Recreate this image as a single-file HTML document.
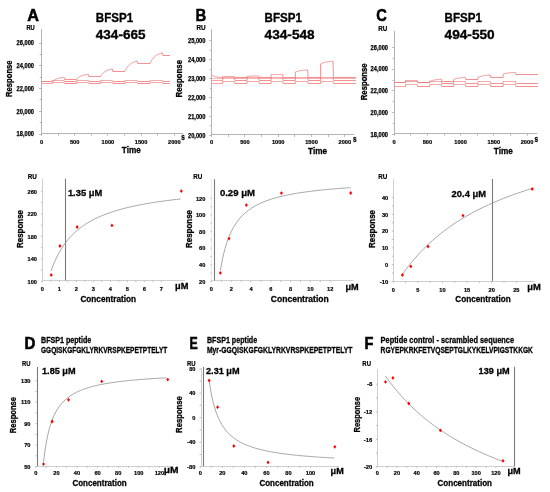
<!DOCTYPE html>
<html><head><meta charset="utf-8"><style>
html,body{margin:0;padding:0;background:#fff;width:550px;height:492px;overflow:hidden}
svg{display:block;will-change:transform}
text{font-family:"Liberation Sans", sans-serif}
</style></head><body>
<svg width="550" height="492" viewBox="0 0 550 492">
<rect width="550" height="492" fill="#fff"/>
<text x="27.35" y="20.60" font-size="16.86" font-weight="bold" fill="#000" stroke="#000" stroke-width="0.5" textLength="11.73" lengthAdjust="spacingAndGlyphs">A</text>
<text x="195.55" y="20.60" font-size="16.86" font-weight="bold" fill="#000" stroke="#000" stroke-width="0.5" textLength="10.78" lengthAdjust="spacingAndGlyphs">B</text>
<text x="376.25" y="20.60" font-size="16.86" font-weight="bold" fill="#000" stroke="#000" stroke-width="0.5" textLength="10.60" lengthAdjust="spacingAndGlyphs">C</text>
<text x="24.60" y="349.00" font-size="15.99" font-weight="bold" fill="#000" stroke="#000" stroke-width="0.6" textLength="10.83" lengthAdjust="spacingAndGlyphs">D</text>
<text x="189.48" y="349.00" font-size="15.99" font-weight="bold" fill="#000" stroke="#000" stroke-width="0.6" textLength="8.20" lengthAdjust="spacingAndGlyphs">E</text>
<text x="364.52" y="349.00" font-size="15.99" font-weight="bold" fill="#000" stroke="#000" stroke-width="0.6" textLength="8.91" lengthAdjust="spacingAndGlyphs">F</text>
<text x="95.80" y="22.00" font-size="13.66" font-weight="bold" text-anchor="start" fill="#000" stroke="#000" stroke-width="0.35" textLength="37.30" lengthAdjust="spacingAndGlyphs">BFSP1</text>
<text x="95.80" y="39.20" font-size="13.66" font-weight="bold" text-anchor="start" fill="#000" stroke="#000" stroke-width="0.35" textLength="49.70" lengthAdjust="spacingAndGlyphs">434-665</text>
<text x="264.60" y="22.00" font-size="13.66" font-weight="bold" text-anchor="start" fill="#000" stroke="#000" stroke-width="0.35" textLength="37.30" lengthAdjust="spacingAndGlyphs">BFSP1</text>
<text x="264.60" y="39.20" font-size="13.66" font-weight="bold" text-anchor="start" fill="#000" stroke="#000" stroke-width="0.35" textLength="50.10" lengthAdjust="spacingAndGlyphs">434-548</text>
<text x="444.60" y="22.00" font-size="13.66" font-weight="bold" text-anchor="start" fill="#000" stroke="#000" stroke-width="0.35" textLength="37.30" lengthAdjust="spacingAndGlyphs">BFSP1</text>
<text x="444.60" y="39.20" font-size="13.66" font-weight="bold" text-anchor="start" fill="#000" stroke="#000" stroke-width="0.35" textLength="50.10" lengthAdjust="spacingAndGlyphs">494-550</text>
<line x1="41.50" y1="29.00" x2="41.50" y2="133.80" stroke="#b4b4b4" stroke-width="1"/>
<line x1="41.20" y1="133.50" x2="183.30" y2="133.50" stroke="#b4b4b4" stroke-width="1"/>
<line x1="39.20" y1="134.50" x2="41.20" y2="134.50" stroke="#b4b4b4" stroke-width="1"/>
<line x1="39.20" y1="111.50" x2="41.20" y2="111.50" stroke="#b4b4b4" stroke-width="1"/>
<line x1="39.20" y1="88.50" x2="41.20" y2="88.50" stroke="#b4b4b4" stroke-width="1"/>
<line x1="39.20" y1="65.50" x2="41.20" y2="65.50" stroke="#b4b4b4" stroke-width="1"/>
<line x1="39.20" y1="43.50" x2="41.20" y2="43.50" stroke="#b4b4b4" stroke-width="1"/>
<line x1="39.70" y1="122.50" x2="41.20" y2="122.50" stroke="#b4b4b4" stroke-width="1"/>
<line x1="39.70" y1="99.50" x2="41.20" y2="99.50" stroke="#b4b4b4" stroke-width="1"/>
<line x1="39.70" y1="77.50" x2="41.20" y2="77.50" stroke="#b4b4b4" stroke-width="1"/>
<line x1="39.70" y1="54.50" x2="41.20" y2="54.50" stroke="#b4b4b4" stroke-width="1"/>
<line x1="41.50" y1="133.80" x2="41.50" y2="135.80" stroke="#b4b4b4" stroke-width="1"/>
<line x1="58.50" y1="133.80" x2="58.50" y2="135.80" stroke="#b4b4b4" stroke-width="1"/>
<line x1="74.50" y1="133.80" x2="74.50" y2="135.80" stroke="#b4b4b4" stroke-width="1"/>
<line x1="91.50" y1="133.80" x2="91.50" y2="135.80" stroke="#b4b4b4" stroke-width="1"/>
<line x1="107.50" y1="133.80" x2="107.50" y2="135.80" stroke="#b4b4b4" stroke-width="1"/>
<line x1="124.50" y1="133.80" x2="124.50" y2="135.80" stroke="#b4b4b4" stroke-width="1"/>
<line x1="141.50" y1="133.80" x2="141.50" y2="135.80" stroke="#b4b4b4" stroke-width="1"/>
<line x1="157.50" y1="133.80" x2="157.50" y2="135.80" stroke="#b4b4b4" stroke-width="1"/>
<line x1="174.50" y1="133.80" x2="174.50" y2="135.80" stroke="#b4b4b4" stroke-width="1"/>
<text x="34.00" y="136.20" font-size="6.40" font-weight="bold" text-anchor="end" fill="#000" stroke="#000" stroke-width="0.25" textLength="17.40" lengthAdjust="spacingAndGlyphs">18,000</text>
<text x="34.00" y="113.50" font-size="6.40" font-weight="bold" text-anchor="end" fill="#000" stroke="#000" stroke-width="0.25" textLength="17.40" lengthAdjust="spacingAndGlyphs">20,000</text>
<text x="34.00" y="90.80" font-size="6.40" font-weight="bold" text-anchor="end" fill="#000" stroke="#000" stroke-width="0.25" textLength="17.40" lengthAdjust="spacingAndGlyphs">22,000</text>
<text x="34.00" y="68.10" font-size="6.40" font-weight="bold" text-anchor="end" fill="#000" stroke="#000" stroke-width="0.25" textLength="17.40" lengthAdjust="spacingAndGlyphs">24,000</text>
<text x="34.00" y="45.40" font-size="6.40" font-weight="bold" text-anchor="end" fill="#000" stroke="#000" stroke-width="0.25" textLength="17.40" lengthAdjust="spacingAndGlyphs">26,000</text>
<text x="41.50" y="143.90" font-size="5.81" font-weight="bold" text-anchor="middle" fill="#000" stroke="#000" stroke-width="0.2" textLength="3.20" lengthAdjust="spacingAndGlyphs">0</text>
<text x="74.70" y="143.90" font-size="5.81" font-weight="bold" text-anchor="middle" fill="#000" stroke="#000" stroke-width="0.2" textLength="9.50" lengthAdjust="spacingAndGlyphs">500</text>
<text x="107.90" y="143.90" font-size="5.81" font-weight="bold" text-anchor="middle" fill="#000" stroke="#000" stroke-width="0.2" textLength="12.60" lengthAdjust="spacingAndGlyphs">1000</text>
<text x="141.10" y="143.90" font-size="5.81" font-weight="bold" text-anchor="middle" fill="#000" stroke="#000" stroke-width="0.2" textLength="12.60" lengthAdjust="spacingAndGlyphs">1500</text>
<text x="174.30" y="143.90" font-size="5.81" font-weight="bold" text-anchor="middle" fill="#000" stroke="#000" stroke-width="0.2" textLength="12.60" lengthAdjust="spacingAndGlyphs">2000</text>
<text x="131.30" y="152.70" font-size="9.30" font-weight="bold" text-anchor="middle" fill="#000" stroke="#000" stroke-width="0.3" textLength="19.00" lengthAdjust="spacingAndGlyphs">Time</text>
<text x="183.10" y="140.20" font-size="8.30" font-weight="bold" text-anchor="middle" fill="#000" stroke="#000" stroke-width="0.3" textLength="3.60" lengthAdjust="spacingAndGlyphs">s</text>
<text x="26.40" y="30.00" font-size="6.40" font-weight="bold" text-anchor="start" fill="#000" stroke="#000" stroke-width="0.2" textLength="8.40" lengthAdjust="spacingAndGlyphs">RU</text>
<text transform="translate(12.10,97.00) rotate(-90)" x="0" y="0" font-size="8.72" font-weight="bold" fill="#000" stroke="#000" stroke-width="0.3" textLength="36.60" lengthAdjust="spacingAndGlyphs">Response</text>
<line x1="211.50" y1="29.00" x2="211.50" y2="134.90" stroke="#b4b4b4" stroke-width="1"/>
<line x1="211.40" y1="134.50" x2="354.40" y2="134.50" stroke="#b4b4b4" stroke-width="1"/>
<line x1="209.40" y1="135.50" x2="211.40" y2="135.50" stroke="#b4b4b4" stroke-width="1"/>
<line x1="209.40" y1="116.50" x2="211.40" y2="116.50" stroke="#b4b4b4" stroke-width="1"/>
<line x1="209.40" y1="97.50" x2="211.40" y2="97.50" stroke="#b4b4b4" stroke-width="1"/>
<line x1="209.40" y1="78.50" x2="211.40" y2="78.50" stroke="#b4b4b4" stroke-width="1"/>
<line x1="209.40" y1="59.50" x2="211.40" y2="59.50" stroke="#b4b4b4" stroke-width="1"/>
<line x1="209.40" y1="40.50" x2="211.40" y2="40.50" stroke="#b4b4b4" stroke-width="1"/>
<line x1="209.90" y1="125.50" x2="211.40" y2="125.50" stroke="#b4b4b4" stroke-width="1"/>
<line x1="209.90" y1="107.50" x2="211.40" y2="107.50" stroke="#b4b4b4" stroke-width="1"/>
<line x1="209.90" y1="88.50" x2="211.40" y2="88.50" stroke="#b4b4b4" stroke-width="1"/>
<line x1="209.90" y1="69.50" x2="211.40" y2="69.50" stroke="#b4b4b4" stroke-width="1"/>
<line x1="209.90" y1="50.50" x2="211.40" y2="50.50" stroke="#b4b4b4" stroke-width="1"/>
<line x1="211.50" y1="134.90" x2="211.50" y2="136.90" stroke="#b4b4b4" stroke-width="1"/>
<line x1="228.50" y1="134.90" x2="228.50" y2="136.90" stroke="#b4b4b4" stroke-width="1"/>
<line x1="244.50" y1="134.90" x2="244.50" y2="136.90" stroke="#b4b4b4" stroke-width="1"/>
<line x1="261.50" y1="134.90" x2="261.50" y2="136.90" stroke="#b4b4b4" stroke-width="1"/>
<line x1="278.50" y1="134.90" x2="278.50" y2="136.90" stroke="#b4b4b4" stroke-width="1"/>
<line x1="294.50" y1="134.90" x2="294.50" y2="136.90" stroke="#b4b4b4" stroke-width="1"/>
<line x1="311.50" y1="134.90" x2="311.50" y2="136.90" stroke="#b4b4b4" stroke-width="1"/>
<line x1="328.50" y1="134.90" x2="328.50" y2="136.90" stroke="#b4b4b4" stroke-width="1"/>
<line x1="344.50" y1="134.90" x2="344.50" y2="136.90" stroke="#b4b4b4" stroke-width="1"/>
<text x="205.40" y="137.50" font-size="6.40" font-weight="bold" text-anchor="end" fill="#000" stroke="#000" stroke-width="0.25" textLength="17.40" lengthAdjust="spacingAndGlyphs">20,000</text>
<text x="205.40" y="118.80" font-size="6.40" font-weight="bold" text-anchor="end" fill="#000" stroke="#000" stroke-width="0.25" textLength="17.40" lengthAdjust="spacingAndGlyphs">21,000</text>
<text x="205.40" y="99.80" font-size="6.40" font-weight="bold" text-anchor="end" fill="#000" stroke="#000" stroke-width="0.25" textLength="17.40" lengthAdjust="spacingAndGlyphs">22,000</text>
<text x="205.40" y="80.80" font-size="6.40" font-weight="bold" text-anchor="end" fill="#000" stroke="#000" stroke-width="0.25" textLength="17.40" lengthAdjust="spacingAndGlyphs">23,000</text>
<text x="205.40" y="61.80" font-size="6.40" font-weight="bold" text-anchor="end" fill="#000" stroke="#000" stroke-width="0.25" textLength="17.40" lengthAdjust="spacingAndGlyphs">24,000</text>
<text x="205.40" y="42.70" font-size="6.40" font-weight="bold" text-anchor="end" fill="#000" stroke="#000" stroke-width="0.25" textLength="17.40" lengthAdjust="spacingAndGlyphs">25,000</text>
<text x="211.60" y="143.90" font-size="5.81" font-weight="bold" text-anchor="middle" fill="#000" stroke="#000" stroke-width="0.2" textLength="3.20" lengthAdjust="spacingAndGlyphs">0</text>
<text x="244.90" y="143.90" font-size="5.81" font-weight="bold" text-anchor="middle" fill="#000" stroke="#000" stroke-width="0.2" textLength="9.50" lengthAdjust="spacingAndGlyphs">500</text>
<text x="278.20" y="143.90" font-size="5.81" font-weight="bold" text-anchor="middle" fill="#000" stroke="#000" stroke-width="0.2" textLength="12.60" lengthAdjust="spacingAndGlyphs">1000</text>
<text x="311.50" y="143.90" font-size="5.81" font-weight="bold" text-anchor="middle" fill="#000" stroke="#000" stroke-width="0.2" textLength="12.60" lengthAdjust="spacingAndGlyphs">1500</text>
<text x="344.80" y="143.90" font-size="5.81" font-weight="bold" text-anchor="middle" fill="#000" stroke="#000" stroke-width="0.2" textLength="12.60" lengthAdjust="spacingAndGlyphs">2000</text>
<text x="317.60" y="154.20" font-size="9.30" font-weight="bold" text-anchor="middle" fill="#000" stroke="#000" stroke-width="0.3" textLength="19.00" lengthAdjust="spacingAndGlyphs">Time</text>
<text x="354.80" y="142.00" font-size="8.30" font-weight="bold" text-anchor="middle" fill="#000" stroke="#000" stroke-width="0.3" textLength="3.60" lengthAdjust="spacingAndGlyphs">s</text>
<text x="196.40" y="30.20" font-size="6.40" font-weight="bold" text-anchor="start" fill="#000" stroke="#000" stroke-width="0.2" textLength="9.20" lengthAdjust="spacingAndGlyphs">RU</text>
<text transform="translate(182.10,97.40) rotate(-90)" x="0" y="0" font-size="8.72" font-weight="bold" fill="#000" stroke="#000" stroke-width="0.3" textLength="37.40" lengthAdjust="spacingAndGlyphs">Response</text>
<line x1="394.50" y1="30.90" x2="394.50" y2="133.60" stroke="#b4b4b4" stroke-width="1"/>
<line x1="394.20" y1="133.50" x2="537.30" y2="133.50" stroke="#b4b4b4" stroke-width="1"/>
<line x1="392.20" y1="134.50" x2="394.20" y2="134.50" stroke="#b4b4b4" stroke-width="1"/>
<line x1="392.20" y1="112.50" x2="394.20" y2="112.50" stroke="#b4b4b4" stroke-width="1"/>
<line x1="392.20" y1="90.50" x2="394.20" y2="90.50" stroke="#b4b4b4" stroke-width="1"/>
<line x1="392.20" y1="69.50" x2="394.20" y2="69.50" stroke="#b4b4b4" stroke-width="1"/>
<line x1="392.20" y1="47.50" x2="394.20" y2="47.50" stroke="#b4b4b4" stroke-width="1"/>
<line x1="392.70" y1="123.50" x2="394.20" y2="123.50" stroke="#b4b4b4" stroke-width="1"/>
<line x1="392.70" y1="101.50" x2="394.20" y2="101.50" stroke="#b4b4b4" stroke-width="1"/>
<line x1="392.70" y1="80.50" x2="394.20" y2="80.50" stroke="#b4b4b4" stroke-width="1"/>
<line x1="392.70" y1="58.50" x2="394.20" y2="58.50" stroke="#b4b4b4" stroke-width="1"/>
<line x1="394.50" y1="133.60" x2="394.50" y2="135.60" stroke="#b4b4b4" stroke-width="1"/>
<line x1="410.50" y1="133.60" x2="410.50" y2="135.60" stroke="#b4b4b4" stroke-width="1"/>
<line x1="427.50" y1="133.60" x2="427.50" y2="135.60" stroke="#b4b4b4" stroke-width="1"/>
<line x1="444.50" y1="133.60" x2="444.50" y2="135.60" stroke="#b4b4b4" stroke-width="1"/>
<line x1="460.50" y1="133.60" x2="460.50" y2="135.60" stroke="#b4b4b4" stroke-width="1"/>
<line x1="477.50" y1="133.60" x2="477.50" y2="135.60" stroke="#b4b4b4" stroke-width="1"/>
<line x1="493.50" y1="133.60" x2="493.50" y2="135.60" stroke="#b4b4b4" stroke-width="1"/>
<line x1="510.50" y1="133.60" x2="510.50" y2="135.60" stroke="#b4b4b4" stroke-width="1"/>
<line x1="527.50" y1="133.60" x2="527.50" y2="135.60" stroke="#b4b4b4" stroke-width="1"/>
<text x="388.00" y="136.70" font-size="6.40" font-weight="bold" text-anchor="end" fill="#000" stroke="#000" stroke-width="0.25" textLength="17.40" lengthAdjust="spacingAndGlyphs">18,000</text>
<text x="388.00" y="114.90" font-size="6.40" font-weight="bold" text-anchor="end" fill="#000" stroke="#000" stroke-width="0.25" textLength="17.40" lengthAdjust="spacingAndGlyphs">20,000</text>
<text x="388.00" y="93.10" font-size="6.40" font-weight="bold" text-anchor="end" fill="#000" stroke="#000" stroke-width="0.25" textLength="17.40" lengthAdjust="spacingAndGlyphs">22,000</text>
<text x="388.00" y="71.30" font-size="6.40" font-weight="bold" text-anchor="end" fill="#000" stroke="#000" stroke-width="0.25" textLength="17.40" lengthAdjust="spacingAndGlyphs">24,000</text>
<text x="388.00" y="49.50" font-size="6.40" font-weight="bold" text-anchor="end" fill="#000" stroke="#000" stroke-width="0.25" textLength="17.40" lengthAdjust="spacingAndGlyphs">26,000</text>
<text x="394.20" y="143.90" font-size="5.81" font-weight="bold" text-anchor="middle" fill="#000" stroke="#000" stroke-width="0.2" textLength="3.20" lengthAdjust="spacingAndGlyphs">0</text>
<text x="427.40" y="143.90" font-size="5.81" font-weight="bold" text-anchor="middle" fill="#000" stroke="#000" stroke-width="0.2" textLength="9.50" lengthAdjust="spacingAndGlyphs">500</text>
<text x="460.60" y="143.90" font-size="5.81" font-weight="bold" text-anchor="middle" fill="#000" stroke="#000" stroke-width="0.2" textLength="12.60" lengthAdjust="spacingAndGlyphs">1000</text>
<text x="493.80" y="143.90" font-size="5.81" font-weight="bold" text-anchor="middle" fill="#000" stroke="#000" stroke-width="0.2" textLength="12.60" lengthAdjust="spacingAndGlyphs">1500</text>
<text x="527.00" y="143.90" font-size="5.81" font-weight="bold" text-anchor="middle" fill="#000" stroke="#000" stroke-width="0.2" textLength="12.60" lengthAdjust="spacingAndGlyphs">2000</text>
<text x="503.30" y="154.20" font-size="9.30" font-weight="bold" text-anchor="middle" fill="#000" stroke="#000" stroke-width="0.3" textLength="19.00" lengthAdjust="spacingAndGlyphs">Time</text>
<text x="536.40" y="142.20" font-size="8.30" font-weight="bold" text-anchor="middle" fill="#000" stroke="#000" stroke-width="0.3" textLength="3.60" lengthAdjust="spacingAndGlyphs">s</text>
<text x="378.20" y="30.70" font-size="6.40" font-weight="bold" text-anchor="start" fill="#000" stroke="#000" stroke-width="0.2" textLength="9.10" lengthAdjust="spacingAndGlyphs">RU</text>
<text transform="translate(366.90,100.20) rotate(-90)" x="0" y="0" font-size="8.72" font-weight="bold" fill="#000" stroke="#000" stroke-width="0.3" textLength="36.80" lengthAdjust="spacingAndGlyphs">Response</text>
<path d="M41.20,81.50 L41.86,81.50 L42.53,81.50 L43.19,81.50 L43.86,81.50 L44.52,81.50 L45.18,81.50 L45.85,81.50 L46.51,81.50 L47.18,81.50 L47.84,81.50 L48.50,81.50 L49.17,81.50 L49.83,81.50 L50.50,81.50 L51.16,81.50 L51.82,81.50 L52.49,81.50 L52.49,81.50 L52.82,81.21 L53.15,80.94 L53.48,80.69 L53.82,80.45 L54.15,80.23 L54.48,80.02 L54.81,79.82 L55.14,79.63 L55.48,79.46 L55.81,79.30 L56.14,79.14 L56.47,79.00 L56.80,78.86 L57.14,78.74 L57.47,78.62 L57.80,78.50 L58.13,78.40 L58.46,78.30 L58.80,78.21 L59.13,78.12 L59.46,78.04 L59.79,77.96 L60.12,77.89 L60.46,77.82 L60.79,77.76 L61.12,77.70 L61.45,77.64 L61.78,77.59 L62.12,77.54 L62.45,77.49 L62.78,77.45 L63.11,77.41 L63.44,77.37 L63.78,77.33 L64.11,77.30 L64.64,79.50 L76.72,79.50 L76.72,79.00 L77.06,78.68 L77.39,78.38 L77.72,78.09 L78.05,77.82 L78.38,77.57 L78.72,77.34 L79.05,77.12 L79.38,76.91 L79.71,76.72 L80.04,76.53 L80.38,76.36 L80.71,76.20 L81.04,76.05 L81.37,75.91 L81.70,75.77 L82.04,75.65 L82.37,75.53 L82.70,75.42 L83.03,75.32 L83.36,75.22 L83.70,75.13 L84.03,75.04 L84.36,74.96 L84.69,74.88 L85.02,74.81 L85.36,74.75 L85.69,74.68 L86.02,74.62 L86.35,74.57 L86.68,74.52 L87.02,74.47 L87.35,74.42 L87.68,74.38 L88.01,74.34 L88.34,74.30 L88.88,76.50 L100.63,76.50 L100.63,76.20 L100.96,75.71 L101.29,75.24 L101.62,74.81 L101.96,74.40 L102.29,74.02 L102.62,73.66 L102.95,73.32 L103.28,73.00 L103.62,72.70 L103.95,72.42 L104.28,72.16 L104.61,71.91 L104.94,71.68 L105.28,71.46 L105.61,71.26 L105.94,71.06 L106.27,70.88 L106.60,70.71 L106.94,70.56 L107.27,70.41 L107.60,70.27 L107.93,70.13 L108.26,70.01 L108.60,69.89 L108.93,69.78 L109.26,69.68 L109.59,69.59 L109.92,69.50 L110.26,69.41 L110.59,69.33 L110.92,69.26 L111.25,69.19 L111.58,69.12 L111.92,69.06 L112.25,69.00 L112.78,71.50 L124.86,71.50 L124.86,71.20 L125.20,70.54 L125.53,69.93 L125.86,69.34 L126.19,68.80 L126.52,68.28 L126.86,67.79 L127.19,67.33 L127.52,66.90 L127.85,66.49 L128.18,66.11 L128.52,65.75 L128.85,65.41 L129.18,65.08 L129.51,64.78 L129.84,64.50 L130.18,64.23 L130.51,63.98 L130.84,63.74 L131.17,63.51 L131.50,63.30 L131.84,63.10 L132.17,62.91 L132.50,62.73 L132.83,62.57 L133.16,62.41 L133.50,62.26 L133.83,62.12 L134.16,61.99 L134.49,61.87 L134.82,61.75 L135.16,61.64 L135.49,61.54 L135.82,61.44 L136.15,61.35 L136.48,61.26 L136.82,61.18 L137.15,61.10 L137.68,63.50 L150.10,63.50 L150.10,63.10 L150.43,62.44 L150.76,61.81 L151.09,61.23 L151.42,60.67 L151.76,60.15 L152.09,59.66 L152.42,59.19 L152.75,58.76 L153.08,58.35 L153.42,57.96 L153.75,57.59 L154.08,57.25 L154.41,56.92 L154.74,56.62 L155.08,56.33 L155.41,56.06 L155.74,55.80 L156.07,55.56 L156.40,55.34 L156.74,55.12 L157.07,54.92 L157.40,54.73 L157.73,54.55 L158.06,54.38 L158.40,54.22 L158.73,54.07 L159.06,53.93 L159.39,53.80 L159.72,53.67 L160.06,53.56 L160.39,53.44 L160.72,53.34 L161.05,53.24 L161.38,53.15 L161.72,53.06 L162.05,52.98 L162.38,52.90 L162.91,55.50 L170.02,55.50" fill="none" stroke="#f07474" stroke-width="0.8" />
<path d="M41.20,81.50 L41.86,81.50 L42.53,81.50 L43.19,81.50 L43.86,81.50 L44.52,81.50 L45.18,81.50 L45.85,81.50 L46.51,81.50 L47.18,81.50 L47.84,81.50 L48.50,81.50 L49.17,81.50 L49.83,81.50 L50.50,81.50 L51.16,81.50 L51.82,81.50 L52.49,81.50 L52.49,80.50 L52.82,80.50 L53.15,80.50 L53.48,80.50 L53.82,80.50 L54.15,80.50 L54.48,80.50 L54.81,80.50 L55.14,80.50 L55.48,80.50 L55.81,80.50 L56.14,80.50 L56.47,80.50 L56.80,80.50 L57.14,80.50 L57.47,80.50 L57.80,80.50 L58.13,80.50 L58.46,80.50 L58.80,80.50 L59.13,80.50 L59.46,80.50 L59.79,80.50 L60.12,80.50 L60.46,80.50 L60.79,80.50 L61.12,80.50 L61.45,80.50 L61.78,80.50 L62.12,80.50 L62.45,80.50 L62.78,80.50 L63.11,80.50 L63.44,80.50 L63.78,80.50 L64.11,80.50 L64.64,81.50 L76.72,81.50 L76.72,80.50 L77.06,80.50 L77.39,80.50 L77.72,80.50 L78.05,80.50 L78.38,80.50 L78.72,80.50 L79.05,80.50 L79.38,80.50 L79.71,80.50 L80.04,80.50 L80.38,80.50 L80.71,80.50 L81.04,80.50 L81.37,80.50 L81.70,80.50 L82.04,80.50 L82.37,80.50 L82.70,80.50 L83.03,80.50 L83.36,80.50 L83.70,80.50 L84.03,80.50 L84.36,80.50 L84.69,80.50 L85.02,80.50 L85.36,80.50 L85.69,80.50 L86.02,80.50 L86.35,80.50 L86.68,80.50 L87.02,80.50 L87.35,80.50 L87.68,80.50 L88.01,80.50 L88.34,80.50 L88.88,81.50 L100.63,81.50 L100.63,80.50 L100.96,80.50 L101.29,80.50 L101.62,80.50 L101.96,80.50 L102.29,80.50 L102.62,80.50 L102.95,80.50 L103.28,80.50 L103.62,80.50 L103.95,80.50 L104.28,80.50 L104.61,80.50 L104.94,80.50 L105.28,80.50 L105.61,80.50 L105.94,80.50 L106.27,80.50 L106.60,80.50 L106.94,80.50 L107.27,80.50 L107.60,80.50 L107.93,80.50 L108.26,80.50 L108.60,80.50 L108.93,80.50 L109.26,80.50 L109.59,80.50 L109.92,80.50 L110.26,80.50 L110.59,80.50 L110.92,80.50 L111.25,80.50 L111.58,80.50 L111.92,80.50 L112.25,80.50 L112.78,81.50 L124.86,81.50 L124.86,80.50 L125.20,80.50 L125.53,80.50 L125.86,80.50 L126.19,80.50 L126.52,80.50 L126.86,80.50 L127.19,80.50 L127.52,80.50 L127.85,80.50 L128.18,80.50 L128.52,80.50 L128.85,80.50 L129.18,80.50 L129.51,80.50 L129.84,80.50 L130.18,80.50 L130.51,80.50 L130.84,80.50 L131.17,80.50 L131.50,80.50 L131.84,80.50 L132.17,80.50 L132.50,80.50 L132.83,80.50 L133.16,80.50 L133.50,80.50 L133.83,80.50 L134.16,80.50 L134.49,80.50 L134.82,80.50 L135.16,80.50 L135.49,80.50 L135.82,80.50 L136.15,80.50 L136.48,80.50 L136.82,80.50 L137.15,80.50 L137.68,81.50 L150.10,81.50 L150.10,80.50 L150.43,80.50 L150.76,80.50 L151.09,80.50 L151.42,80.50 L151.76,80.50 L152.09,80.50 L152.42,80.50 L152.75,80.50 L153.08,80.50 L153.42,80.50 L153.75,80.50 L154.08,80.50 L154.41,80.50 L154.74,80.50 L155.08,80.50 L155.41,80.50 L155.74,80.50 L156.07,80.50 L156.40,80.50 L156.74,80.50 L157.07,80.50 L157.40,80.50 L157.73,80.50 L158.06,80.50 L158.40,80.50 L158.73,80.50 L159.06,80.50 L159.39,80.50 L159.72,80.50 L160.06,80.50 L160.39,80.50 L160.72,80.50 L161.05,80.50 L161.38,80.50 L161.72,80.50 L162.05,80.50 L162.38,80.50 L162.91,81.50 L170.02,81.50" fill="none" stroke="#f07474" stroke-width="0.8" />
<path d="M41.20,83.50 L41.86,83.50 L42.53,83.50 L43.19,83.50 L43.86,83.50 L44.52,83.50 L45.18,83.50 L45.85,83.50 L46.51,83.50 L47.18,83.50 L47.84,83.50 L48.50,83.50 L49.17,83.50 L49.83,83.50 L50.50,83.50 L51.16,83.50 L51.82,83.50 L52.49,83.50 L52.49,82.50 L52.82,82.50 L53.15,82.50 L53.48,82.50 L53.82,82.50 L54.15,82.50 L54.48,82.50 L54.81,82.50 L55.14,82.50 L55.48,82.50 L55.81,82.50 L56.14,82.50 L56.47,82.50 L56.80,82.50 L57.14,82.50 L57.47,82.50 L57.80,82.50 L58.13,82.50 L58.46,82.50 L58.80,82.50 L59.13,82.50 L59.46,82.50 L59.79,82.50 L60.12,82.50 L60.46,82.50 L60.79,82.50 L61.12,82.50 L61.45,82.50 L61.78,82.50 L62.12,82.50 L62.45,82.50 L62.78,82.50 L63.11,82.50 L63.44,82.50 L63.78,82.50 L64.11,82.50 L64.64,83.50 L76.72,83.50 L76.72,82.50 L77.06,82.50 L77.39,82.50 L77.72,82.50 L78.05,82.50 L78.38,82.50 L78.72,82.50 L79.05,82.50 L79.38,82.50 L79.71,82.50 L80.04,82.50 L80.38,82.50 L80.71,82.50 L81.04,82.50 L81.37,82.50 L81.70,82.50 L82.04,82.50 L82.37,82.50 L82.70,82.50 L83.03,82.50 L83.36,82.50 L83.70,82.50 L84.03,82.50 L84.36,82.50 L84.69,82.50 L85.02,82.50 L85.36,82.50 L85.69,82.50 L86.02,82.50 L86.35,82.50 L86.68,82.50 L87.02,82.50 L87.35,82.50 L87.68,82.50 L88.01,82.50 L88.34,82.50 L88.88,83.50 L100.63,83.50 L100.63,82.50 L100.96,82.50 L101.29,82.50 L101.62,82.50 L101.96,82.50 L102.29,82.50 L102.62,82.50 L102.95,82.50 L103.28,82.50 L103.62,82.50 L103.95,82.50 L104.28,82.50 L104.61,82.50 L104.94,82.50 L105.28,82.50 L105.61,82.50 L105.94,82.50 L106.27,82.50 L106.60,82.50 L106.94,82.50 L107.27,82.50 L107.60,82.50 L107.93,82.50 L108.26,82.50 L108.60,82.50 L108.93,82.50 L109.26,82.50 L109.59,82.50 L109.92,82.50 L110.26,82.50 L110.59,82.50 L110.92,82.50 L111.25,82.50 L111.58,82.50 L111.92,82.50 L112.25,82.50 L112.78,83.50 L124.86,83.50 L124.86,82.50 L125.20,82.50 L125.53,82.50 L125.86,82.50 L126.19,82.50 L126.52,82.50 L126.86,82.50 L127.19,82.50 L127.52,82.50 L127.85,82.50 L128.18,82.50 L128.52,82.50 L128.85,82.50 L129.18,82.50 L129.51,82.50 L129.84,82.50 L130.18,82.50 L130.51,82.50 L130.84,82.50 L131.17,82.50 L131.50,82.50 L131.84,82.50 L132.17,82.50 L132.50,82.50 L132.83,82.50 L133.16,82.50 L133.50,82.50 L133.83,82.50 L134.16,82.50 L134.49,82.50 L134.82,82.50 L135.16,82.50 L135.49,82.50 L135.82,82.50 L136.15,82.50 L136.48,82.50 L136.82,82.50 L137.15,82.50 L137.68,83.50 L150.10,83.50 L150.10,82.50 L150.43,82.50 L150.76,82.50 L151.09,82.50 L151.42,82.50 L151.76,82.50 L152.09,82.50 L152.42,82.50 L152.75,82.50 L153.08,82.50 L153.42,82.50 L153.75,82.50 L154.08,82.50 L154.41,82.50 L154.74,82.50 L155.08,82.50 L155.41,82.50 L155.74,82.50 L156.07,82.50 L156.40,82.50 L156.74,82.50 L157.07,82.50 L157.40,82.50 L157.73,82.50 L158.06,82.50 L158.40,82.50 L158.73,82.50 L159.06,82.50 L159.39,82.50 L159.72,82.50 L160.06,82.50 L160.39,82.50 L160.72,82.50 L161.05,82.50 L161.38,82.50 L161.72,82.50 L162.05,82.50 L162.38,82.50 L162.91,83.50 L170.02,83.50" fill="none" stroke="#f07474" stroke-width="0.8" />
<path d="M211.40,75.10 L212.07,75.48 L212.73,75.81 L213.40,76.08 L214.06,76.32 L214.73,76.51 L215.40,76.68 L216.06,76.82 L216.73,76.94 L217.39,77.04 L218.06,77.13 L218.73,77.20 L219.39,77.26 L220.06,77.31 L220.72,77.36 L221.39,77.39 L222.06,77.43 L222.72,77.45 L222.72,76.50 L223.06,76.50 L223.39,76.50 L223.72,76.50 L224.05,76.50 L224.39,76.50 L224.72,76.50 L225.05,76.50 L225.39,76.50 L225.72,76.50 L226.05,76.50 L226.38,76.50 L226.72,76.50 L227.05,76.50 L227.38,76.50 L227.72,76.50 L228.05,76.50 L228.38,76.50 L228.72,76.50 L229.05,76.50 L229.38,76.50 L229.72,76.50 L230.05,76.50 L230.38,76.50 L230.71,76.50 L231.05,76.50 L231.38,76.50 L231.71,76.50 L232.05,76.50 L232.38,76.50 L232.71,76.50 L233.05,76.50 L233.38,76.50 L233.71,76.50 L234.04,76.50 L234.38,76.50 L234.91,77.50 L247.03,77.50 L247.03,76.40 L247.36,76.37 L247.70,76.35 L248.03,76.32 L248.36,76.30 L248.70,76.28 L249.03,76.26 L249.36,76.24 L249.69,76.22 L250.03,76.21 L250.36,76.19 L250.69,76.18 L251.03,76.16 L251.36,76.15 L251.69,76.14 L252.03,76.13 L252.36,76.11 L252.69,76.10 L253.03,76.10 L253.36,76.09 L253.69,76.08 L254.02,76.07 L254.36,76.06 L254.69,76.06 L255.02,76.05 L255.36,76.04 L255.69,76.04 L256.02,76.03 L256.36,76.03 L256.69,76.02 L257.02,76.02 L257.35,76.01 L257.69,76.01 L258.02,76.01 L258.35,76.00 L258.69,76.00 L259.22,77.50 L271.01,77.50 L271.01,74.50 L271.34,74.50 L271.67,74.50 L272.01,74.50 L272.34,74.50 L272.67,74.50 L273.00,74.50 L273.34,74.50 L273.67,74.50 L274.00,74.50 L274.34,74.50 L274.67,74.50 L275.00,74.50 L275.34,74.50 L275.67,74.50 L276.00,74.50 L276.33,74.50 L276.67,74.50 L277.00,74.50 L277.33,74.50 L277.67,74.50 L278.00,74.50 L278.33,74.50 L278.67,74.50 L279.00,74.50 L279.33,74.50 L279.66,74.50 L280.00,74.50 L280.33,74.50 L280.66,74.50 L281.00,74.50 L281.33,74.50 L281.66,74.50 L282.00,74.50 L282.33,74.50 L282.66,74.50 L283.19,77.50 L295.32,77.50 L295.32,72.00 L295.65,71.87 L295.98,71.75 L296.31,71.63 L296.65,71.52 L296.98,71.42 L297.31,71.33 L297.65,71.23 L297.98,71.15 L298.31,71.07 L298.65,70.99 L298.98,70.92 L299.31,70.85 L299.64,70.79 L299.98,70.73 L300.31,70.67 L300.64,70.62 L300.98,70.57 L301.31,70.52 L301.64,70.48 L301.98,70.44 L302.31,70.40 L302.64,70.36 L302.98,70.32 L303.31,70.29 L303.64,70.26 L303.97,70.23 L304.31,70.20 L304.64,70.18 L304.97,70.15 L305.31,70.13 L305.64,70.11 L305.97,70.09 L306.31,70.07 L306.64,70.05 L306.97,70.03 L307.30,70.02 L307.64,70.00 L308.17,77.50 L320.62,77.50 L320.62,64.00 L320.96,63.82 L321.29,63.66 L321.62,63.50 L321.96,63.36 L322.29,63.22 L322.62,63.09 L322.95,62.97 L323.29,62.85 L323.62,62.74 L323.95,62.64 L324.29,62.54 L324.62,62.45 L324.95,62.37 L325.29,62.28 L325.62,62.21 L325.95,62.14 L326.28,62.07 L326.62,62.00 L326.95,61.94 L327.28,61.89 L327.62,61.83 L327.95,61.78 L328.28,61.74 L328.62,61.69 L328.95,61.65 L329.28,61.61 L329.62,61.57 L329.95,61.54 L330.28,61.50 L330.61,61.47 L330.95,61.44 L331.28,61.42 L331.61,61.39 L331.95,61.37 L332.28,61.34 L332.61,61.32 L332.94,61.30 L333.48,77.50 L355.79,77.50" fill="none" stroke="#f07474" stroke-width="0.8" />
<path d="M211.40,80.50 L212.07,80.50 L212.73,80.50 L213.40,80.50 L214.06,80.50 L214.73,80.50 L215.40,80.50 L216.06,80.50 L216.73,80.50 L217.39,80.50 L218.06,80.50 L218.73,80.50 L219.39,80.50 L220.06,80.50 L220.72,80.50 L221.39,80.50 L222.06,80.50 L222.72,80.50 L222.72,77.50 L223.06,77.50 L223.39,77.50 L223.72,77.50 L224.05,77.50 L224.39,77.50 L224.72,77.50 L225.05,77.50 L225.39,77.50 L225.72,77.50 L226.05,77.50 L226.38,77.50 L226.72,77.50 L227.05,77.50 L227.38,77.50 L227.72,77.50 L228.05,77.50 L228.38,77.50 L228.72,77.50 L229.05,77.50 L229.38,77.50 L229.72,77.50 L230.05,77.50 L230.38,77.50 L230.71,77.50 L231.05,77.50 L231.38,77.50 L231.71,77.50 L232.05,77.50 L232.38,77.50 L232.71,77.50 L233.05,77.50 L233.38,77.50 L233.71,77.50 L234.04,77.50 L234.38,77.50 L234.91,80.50 L247.03,80.50 L247.03,77.50 L247.36,77.50 L247.70,77.50 L248.03,77.50 L248.36,77.50 L248.70,77.50 L249.03,77.50 L249.36,77.50 L249.69,77.50 L250.03,77.50 L250.36,77.50 L250.69,77.50 L251.03,77.50 L251.36,77.50 L251.69,77.50 L252.03,77.50 L252.36,77.50 L252.69,77.50 L253.03,77.50 L253.36,77.50 L253.69,77.50 L254.02,77.50 L254.36,77.50 L254.69,77.50 L255.02,77.50 L255.36,77.50 L255.69,77.50 L256.02,77.50 L256.36,77.50 L256.69,77.50 L257.02,77.50 L257.35,77.50 L257.69,77.50 L258.02,77.50 L258.35,77.50 L258.69,77.50 L259.22,80.50 L271.01,80.50 L271.01,77.50 L271.34,77.50 L271.67,77.50 L272.01,77.50 L272.34,77.50 L272.67,77.50 L273.00,77.50 L273.34,77.50 L273.67,77.50 L274.00,77.50 L274.34,77.50 L274.67,77.50 L275.00,77.50 L275.34,77.50 L275.67,77.50 L276.00,77.50 L276.33,77.50 L276.67,77.50 L277.00,77.50 L277.33,77.50 L277.67,77.50 L278.00,77.50 L278.33,77.50 L278.67,77.50 L279.00,77.50 L279.33,77.50 L279.66,77.50 L280.00,77.50 L280.33,77.50 L280.66,77.50 L281.00,77.50 L281.33,77.50 L281.66,77.50 L282.00,77.50 L282.33,77.50 L282.66,77.50 L283.19,80.50 L295.32,80.50 L295.32,77.50 L295.65,77.50 L295.98,77.50 L296.31,77.50 L296.65,77.50 L296.98,77.50 L297.31,77.50 L297.65,77.50 L297.98,77.50 L298.31,77.50 L298.65,77.50 L298.98,77.50 L299.31,77.50 L299.64,77.50 L299.98,77.50 L300.31,77.50 L300.64,77.50 L300.98,77.50 L301.31,77.50 L301.64,77.50 L301.98,77.50 L302.31,77.50 L302.64,77.50 L302.98,77.50 L303.31,77.50 L303.64,77.50 L303.97,77.50 L304.31,77.50 L304.64,77.50 L304.97,77.50 L305.31,77.50 L305.64,77.50 L305.97,77.50 L306.31,77.50 L306.64,77.50 L306.97,77.50 L307.30,77.50 L307.64,77.50 L308.17,80.50 L320.62,80.50 L320.62,77.50 L320.96,77.50 L321.29,77.50 L321.62,77.50 L321.96,77.50 L322.29,77.50 L322.62,77.50 L322.95,77.50 L323.29,77.50 L323.62,77.50 L323.95,77.50 L324.29,77.50 L324.62,77.50 L324.95,77.50 L325.29,77.50 L325.62,77.50 L325.95,77.50 L326.28,77.50 L326.62,77.50 L326.95,77.50 L327.28,77.50 L327.62,77.50 L327.95,77.50 L328.28,77.50 L328.62,77.50 L328.95,77.50 L329.28,77.50 L329.62,77.50 L329.95,77.50 L330.28,77.50 L330.61,77.50 L330.95,77.50 L331.28,77.50 L331.61,77.50 L331.95,77.50 L332.28,77.50 L332.61,77.50 L332.94,77.50 L333.48,80.50 L355.79,80.50" fill="none" stroke="#f07474" stroke-width="0.8" />
<path d="M211.40,78.50 L212.07,78.50 L212.73,78.50 L213.40,78.50 L214.06,78.50 L214.73,78.50 L215.40,78.50 L216.06,78.50 L216.73,78.50 L217.39,78.50 L218.06,78.50 L218.73,78.50 L219.39,78.50 L220.06,78.50 L220.72,78.50 L221.39,78.50 L222.06,78.50 L222.72,78.50 L222.72,78.50 L223.06,78.50 L223.39,78.50 L223.72,78.50 L224.05,78.50 L224.39,78.50 L224.72,78.50 L225.05,78.50 L225.39,78.50 L225.72,78.50 L226.05,78.50 L226.38,78.50 L226.72,78.50 L227.05,78.50 L227.38,78.50 L227.72,78.50 L228.05,78.50 L228.38,78.50 L228.72,78.50 L229.05,78.50 L229.38,78.50 L229.72,78.50 L230.05,78.50 L230.38,78.50 L230.71,78.50 L231.05,78.50 L231.38,78.50 L231.71,78.50 L232.05,78.50 L232.38,78.50 L232.71,78.50 L233.05,78.50 L233.38,78.50 L233.71,78.50 L234.04,78.50 L234.38,78.50 L234.91,78.50 L247.03,78.50 L247.03,78.50 L247.36,78.50 L247.70,78.50 L248.03,78.50 L248.36,78.50 L248.70,78.50 L249.03,78.50 L249.36,78.50 L249.69,78.50 L250.03,78.50 L250.36,78.50 L250.69,78.50 L251.03,78.50 L251.36,78.50 L251.69,78.50 L252.03,78.50 L252.36,78.50 L252.69,78.50 L253.03,78.50 L253.36,78.50 L253.69,78.50 L254.02,78.50 L254.36,78.50 L254.69,78.50 L255.02,78.50 L255.36,78.50 L255.69,78.50 L256.02,78.50 L256.36,78.50 L256.69,78.50 L257.02,78.50 L257.35,78.50 L257.69,78.50 L258.02,78.50 L258.35,78.50 L258.69,78.50 L259.22,78.50 L271.01,78.50 L271.01,78.50 L271.34,78.50 L271.67,78.50 L272.01,78.50 L272.34,78.50 L272.67,78.50 L273.00,78.50 L273.34,78.50 L273.67,78.50 L274.00,78.50 L274.34,78.50 L274.67,78.50 L275.00,78.50 L275.34,78.50 L275.67,78.50 L276.00,78.50 L276.33,78.50 L276.67,78.50 L277.00,78.50 L277.33,78.50 L277.67,78.50 L278.00,78.50 L278.33,78.50 L278.67,78.50 L279.00,78.50 L279.33,78.50 L279.66,78.50 L280.00,78.50 L280.33,78.50 L280.66,78.50 L281.00,78.50 L281.33,78.50 L281.66,78.50 L282.00,78.50 L282.33,78.50 L282.66,78.50 L283.19,78.50 L295.32,78.50 L295.32,78.50 L295.65,78.50 L295.98,78.50 L296.31,78.50 L296.65,78.50 L296.98,78.50 L297.31,78.50 L297.65,78.50 L297.98,78.50 L298.31,78.50 L298.65,78.50 L298.98,78.50 L299.31,78.50 L299.64,78.50 L299.98,78.50 L300.31,78.50 L300.64,78.50 L300.98,78.50 L301.31,78.50 L301.64,78.50 L301.98,78.50 L302.31,78.50 L302.64,78.50 L302.98,78.50 L303.31,78.50 L303.64,78.50 L303.97,78.50 L304.31,78.50 L304.64,78.50 L304.97,78.50 L305.31,78.50 L305.64,78.50 L305.97,78.50 L306.31,78.50 L306.64,78.50 L306.97,78.50 L307.30,78.50 L307.64,78.50 L308.17,78.50 L320.62,78.50 L320.62,78.50 L320.96,78.50 L321.29,78.50 L321.62,78.50 L321.96,78.50 L322.29,78.50 L322.62,78.50 L322.95,78.50 L323.29,78.50 L323.62,78.50 L323.95,78.50 L324.29,78.50 L324.62,78.50 L324.95,78.50 L325.29,78.50 L325.62,78.50 L325.95,78.50 L326.28,78.50 L326.62,78.50 L326.95,78.50 L327.28,78.50 L327.62,78.50 L327.95,78.50 L328.28,78.50 L328.62,78.50 L328.95,78.50 L329.28,78.50 L329.62,78.50 L329.95,78.50 L330.28,78.50 L330.61,78.50 L330.95,78.50 L331.28,78.50 L331.61,78.50 L331.95,78.50 L332.28,78.50 L332.61,78.50 L332.94,78.50 L333.48,78.50 L355.79,78.50" fill="none" stroke="#f07474" stroke-width="0.6" />
<path d="M211.40,83.50 L212.07,83.50 L212.73,83.50 L213.40,83.50 L214.06,83.50 L214.73,83.50 L215.40,83.50 L216.06,83.50 L216.73,83.50 L217.39,83.50 L218.06,83.50 L218.73,83.50 L219.39,83.50 L220.06,83.50 L220.72,83.50 L221.39,83.50 L222.06,83.50 L222.72,83.50 L222.72,81.50 L223.06,81.50 L223.39,81.50 L223.72,81.50 L224.05,81.50 L224.39,81.50 L224.72,81.50 L225.05,81.50 L225.39,81.50 L225.72,81.50 L226.05,81.50 L226.38,81.50 L226.72,81.50 L227.05,81.50 L227.38,81.50 L227.72,81.50 L228.05,81.50 L228.38,81.50 L228.72,81.50 L229.05,81.50 L229.38,81.50 L229.72,81.50 L230.05,81.50 L230.38,81.50 L230.71,81.50 L231.05,81.50 L231.38,81.50 L231.71,81.50 L232.05,81.50 L232.38,81.50 L232.71,81.50 L233.05,81.50 L233.38,81.50 L233.71,81.50 L234.04,81.50 L234.38,81.50 L234.91,83.50 L247.03,83.50 L247.03,81.50 L247.36,81.50 L247.70,81.50 L248.03,81.50 L248.36,81.50 L248.70,81.50 L249.03,81.50 L249.36,81.50 L249.69,81.50 L250.03,81.50 L250.36,81.50 L250.69,81.50 L251.03,81.50 L251.36,81.50 L251.69,81.50 L252.03,81.50 L252.36,81.50 L252.69,81.50 L253.03,81.50 L253.36,81.50 L253.69,81.50 L254.02,81.50 L254.36,81.50 L254.69,81.50 L255.02,81.50 L255.36,81.50 L255.69,81.50 L256.02,81.50 L256.36,81.50 L256.69,81.50 L257.02,81.50 L257.35,81.50 L257.69,81.50 L258.02,81.50 L258.35,81.50 L258.69,81.50 L259.22,83.50 L271.01,83.50 L271.01,81.50 L271.34,81.50 L271.67,81.50 L272.01,81.50 L272.34,81.50 L272.67,81.50 L273.00,81.50 L273.34,81.50 L273.67,81.50 L274.00,81.50 L274.34,81.50 L274.67,81.50 L275.00,81.50 L275.34,81.50 L275.67,81.50 L276.00,81.50 L276.33,81.50 L276.67,81.50 L277.00,81.50 L277.33,81.50 L277.67,81.50 L278.00,81.50 L278.33,81.50 L278.67,81.50 L279.00,81.50 L279.33,81.50 L279.66,81.50 L280.00,81.50 L280.33,81.50 L280.66,81.50 L281.00,81.50 L281.33,81.50 L281.66,81.50 L282.00,81.50 L282.33,81.50 L282.66,81.50 L283.19,83.50 L295.32,83.50 L295.32,81.50 L295.65,81.50 L295.98,81.50 L296.31,81.50 L296.65,81.50 L296.98,81.50 L297.31,81.50 L297.65,81.50 L297.98,81.50 L298.31,81.50 L298.65,81.50 L298.98,81.50 L299.31,81.50 L299.64,81.50 L299.98,81.50 L300.31,81.50 L300.64,81.50 L300.98,81.50 L301.31,81.50 L301.64,81.50 L301.98,81.50 L302.31,81.50 L302.64,81.50 L302.98,81.50 L303.31,81.50 L303.64,81.50 L303.97,81.50 L304.31,81.50 L304.64,81.50 L304.97,81.50 L305.31,81.50 L305.64,81.50 L305.97,81.50 L306.31,81.50 L306.64,81.50 L306.97,81.50 L307.30,81.50 L307.64,81.50 L308.17,83.50 L320.62,83.50 L320.62,81.50 L320.96,81.50 L321.29,81.50 L321.62,81.50 L321.96,81.50 L322.29,81.50 L322.62,81.50 L322.95,81.50 L323.29,81.50 L323.62,81.50 L323.95,81.50 L324.29,81.50 L324.62,81.50 L324.95,81.50 L325.29,81.50 L325.62,81.50 L325.95,81.50 L326.28,81.50 L326.62,81.50 L326.95,81.50 L327.28,81.50 L327.62,81.50 L327.95,81.50 L328.28,81.50 L328.62,81.50 L328.95,81.50 L329.28,81.50 L329.62,81.50 L329.95,81.50 L330.28,81.50 L330.61,81.50 L330.95,81.50 L331.28,81.50 L331.61,81.50 L331.95,81.50 L332.28,81.50 L332.61,81.50 L332.94,81.50 L333.48,83.50 L355.79,83.50" fill="none" stroke="#f07474" stroke-width="0.8" />
<path d="M394.20,82.50 L394.86,82.50 L395.53,82.50 L396.19,82.50 L396.86,82.50 L397.52,82.50 L398.18,82.50 L398.85,82.50 L399.51,82.50 L400.18,82.50 L400.84,82.50 L401.50,82.50 L402.17,82.50 L402.83,82.50 L403.50,82.50 L404.16,82.50 L404.82,82.50 L405.49,82.50 L405.49,80.50 L405.82,80.50 L406.15,80.50 L406.48,80.50 L406.82,80.50 L407.15,80.50 L407.48,80.50 L407.81,80.50 L408.14,80.50 L408.48,80.50 L408.81,80.50 L409.14,80.50 L409.47,80.50 L409.80,80.50 L410.14,80.50 L410.47,80.50 L410.80,80.50 L411.13,80.50 L411.46,80.50 L411.80,80.50 L412.13,80.50 L412.46,80.50 L412.79,80.50 L413.12,80.50 L413.46,80.50 L413.79,80.50 L414.12,80.50 L414.45,80.50 L414.78,80.50 L415.12,80.50 L415.45,80.50 L415.78,80.50 L416.11,80.50 L416.44,80.50 L416.78,80.50 L417.11,80.50 L417.64,82.50 L429.72,82.50 L429.72,81.50 L430.06,81.34 L430.39,81.19 L430.72,81.06 L431.05,80.92 L431.38,80.80 L431.72,80.69 L432.05,80.58 L432.38,80.48 L432.71,80.38 L433.04,80.29 L433.38,80.21 L433.71,80.13 L434.04,80.06 L434.37,79.99 L434.70,79.92 L435.04,79.86 L435.37,79.80 L435.70,79.75 L436.03,79.70 L436.36,79.65 L436.70,79.60 L437.03,79.56 L437.36,79.52 L437.69,79.49 L438.02,79.45 L438.36,79.42 L438.69,79.39 L439.02,79.36 L439.35,79.33 L439.68,79.31 L440.02,79.28 L440.35,79.26 L440.68,79.24 L441.01,79.22 L441.34,79.20 L441.88,81.50 L453.63,81.50 L453.63,79.60 L453.96,79.45 L454.29,79.31 L454.62,79.17 L454.96,79.05 L455.29,78.93 L455.62,78.82 L455.95,78.72 L456.28,78.62 L456.62,78.53 L456.95,78.45 L457.28,78.37 L457.61,78.29 L457.94,78.22 L458.28,78.15 L458.61,78.09 L458.94,78.03 L459.27,77.98 L459.60,77.92 L459.94,77.88 L460.27,77.83 L460.60,77.79 L460.93,77.75 L461.26,77.71 L461.60,77.67 L461.93,77.64 L462.26,77.61 L462.59,77.58 L462.92,77.55 L463.26,77.53 L463.59,77.50 L463.92,77.48 L464.25,77.46 L464.58,77.44 L464.92,77.42 L465.25,77.40 L465.78,79.50 L477.86,79.50 L477.86,77.50 L478.20,77.34 L478.53,77.18 L478.86,77.04 L479.19,76.90 L479.52,76.78 L479.86,76.66 L480.19,76.54 L480.52,76.44 L480.85,76.33 L481.18,76.24 L481.52,76.15 L481.85,76.07 L482.18,75.99 L482.51,75.91 L482.84,75.84 L483.18,75.77 L483.51,75.71 L483.84,75.65 L484.17,75.60 L484.50,75.54 L484.84,75.50 L485.17,75.45 L485.50,75.40 L485.83,75.36 L486.16,75.32 L486.50,75.29 L486.83,75.25 L487.16,75.22 L487.49,75.19 L487.82,75.16 L488.16,75.13 L488.49,75.11 L488.82,75.08 L489.15,75.06 L489.48,75.04 L489.82,75.02 L490.15,75.00 L490.68,77.50 L503.10,77.50 L503.10,74.30 L503.43,74.18 L503.76,74.06 L504.09,73.95 L504.42,73.85 L504.76,73.75 L505.09,73.66 L505.42,73.57 L505.75,73.49 L506.08,73.41 L506.42,73.34 L506.75,73.27 L507.08,73.21 L507.41,73.15 L507.74,73.09 L508.08,73.04 L508.41,72.99 L508.74,72.94 L509.07,72.90 L509.40,72.85 L509.74,72.81 L510.07,72.78 L510.40,72.74 L510.73,72.71 L511.06,72.68 L511.40,72.65 L511.73,72.62 L512.06,72.59 L512.39,72.57 L512.72,72.54 L513.06,72.52 L513.39,72.50 L513.72,72.48 L514.05,72.46 L514.38,72.45 L514.72,72.43 L515.05,72.41 L515.38,72.40 L515.91,74.50 L537.96,74.50" fill="none" stroke="#f07474" stroke-width="0.8" />
<path d="M394.20,82.50 L394.86,82.50 L395.53,82.50 L396.19,82.50 L396.86,82.50 L397.52,82.50 L398.18,82.50 L398.85,82.50 L399.51,82.50 L400.18,82.50 L400.84,82.50 L401.50,82.50 L402.17,82.50 L402.83,82.50 L403.50,82.50 L404.16,82.50 L404.82,82.50 L405.49,82.50 L405.49,81.50 L405.82,81.50 L406.15,81.50 L406.48,81.50 L406.82,81.50 L407.15,81.50 L407.48,81.50 L407.81,81.50 L408.14,81.50 L408.48,81.50 L408.81,81.50 L409.14,81.50 L409.47,81.50 L409.80,81.50 L410.14,81.50 L410.47,81.50 L410.80,81.50 L411.13,81.50 L411.46,81.50 L411.80,81.50 L412.13,81.50 L412.46,81.50 L412.79,81.50 L413.12,81.50 L413.46,81.50 L413.79,81.50 L414.12,81.50 L414.45,81.50 L414.78,81.50 L415.12,81.50 L415.45,81.50 L415.78,81.50 L416.11,81.50 L416.44,81.50 L416.78,81.50 L417.11,81.50 L417.64,82.50 L429.72,82.50 L429.72,81.50 L430.06,81.50 L430.39,81.50 L430.72,81.50 L431.05,81.50 L431.38,81.50 L431.72,81.50 L432.05,81.50 L432.38,81.50 L432.71,81.50 L433.04,81.50 L433.38,81.50 L433.71,81.50 L434.04,81.50 L434.37,81.50 L434.70,81.50 L435.04,81.50 L435.37,81.50 L435.70,81.50 L436.03,81.50 L436.36,81.50 L436.70,81.50 L437.03,81.50 L437.36,81.50 L437.69,81.50 L438.02,81.50 L438.36,81.50 L438.69,81.50 L439.02,81.50 L439.35,81.50 L439.68,81.50 L440.02,81.50 L440.35,81.50 L440.68,81.50 L441.01,81.50 L441.34,81.50 L441.88,83.50 L453.63,83.50 L453.63,81.50 L453.96,81.50 L454.29,81.50 L454.62,81.50 L454.96,81.50 L455.29,81.50 L455.62,81.50 L455.95,81.50 L456.28,81.50 L456.62,81.50 L456.95,81.50 L457.28,81.50 L457.61,81.50 L457.94,81.50 L458.28,81.50 L458.61,81.50 L458.94,81.50 L459.27,81.50 L459.60,81.50 L459.94,81.50 L460.27,81.50 L460.60,81.50 L460.93,81.50 L461.26,81.50 L461.60,81.50 L461.93,81.50 L462.26,81.50 L462.59,81.50 L462.92,81.50 L463.26,81.50 L463.59,81.50 L463.92,81.50 L464.25,81.50 L464.58,81.50 L464.92,81.50 L465.25,81.50 L465.78,83.50 L477.86,83.50 L477.86,81.50 L478.20,81.50 L478.53,81.50 L478.86,81.50 L479.19,81.50 L479.52,81.50 L479.86,81.50 L480.19,81.50 L480.52,81.50 L480.85,81.50 L481.18,81.50 L481.52,81.50 L481.85,81.50 L482.18,81.50 L482.51,81.50 L482.84,81.50 L483.18,81.50 L483.51,81.50 L483.84,81.50 L484.17,81.50 L484.50,81.50 L484.84,81.50 L485.17,81.50 L485.50,81.50 L485.83,81.50 L486.16,81.50 L486.50,81.50 L486.83,81.50 L487.16,81.50 L487.49,81.50 L487.82,81.50 L488.16,81.50 L488.49,81.50 L488.82,81.50 L489.15,81.50 L489.48,81.50 L489.82,81.50 L490.15,81.50 L490.68,83.50 L503.10,83.50 L503.10,81.50 L503.43,81.50 L503.76,81.50 L504.09,81.50 L504.42,81.50 L504.76,81.50 L505.09,81.50 L505.42,81.50 L505.75,81.50 L506.08,81.50 L506.42,81.50 L506.75,81.50 L507.08,81.50 L507.41,81.50 L507.74,81.50 L508.08,81.50 L508.41,81.50 L508.74,81.50 L509.07,81.50 L509.40,81.50 L509.74,81.50 L510.07,81.50 L510.40,81.50 L510.73,81.50 L511.06,81.50 L511.40,81.50 L511.73,81.50 L512.06,81.50 L512.39,81.50 L512.72,81.50 L513.06,81.50 L513.39,81.50 L513.72,81.50 L514.05,81.50 L514.38,81.50 L514.72,81.50 L515.05,81.50 L515.38,81.50 L515.91,83.50 L537.96,83.50" fill="none" stroke="#f07474" stroke-width="0.8" />
<path d="M394.20,86.50 L394.86,86.50 L395.53,86.50 L396.19,86.50 L396.86,86.50 L397.52,86.50 L398.18,86.50 L398.85,86.50 L399.51,86.50 L400.18,86.50 L400.84,86.50 L401.50,86.50 L402.17,86.50 L402.83,86.50 L403.50,86.50 L404.16,86.50 L404.82,86.50 L405.49,86.50 L405.49,84.50 L405.82,84.50 L406.15,84.50 L406.48,84.50 L406.82,84.50 L407.15,84.50 L407.48,84.50 L407.81,84.50 L408.14,84.50 L408.48,84.50 L408.81,84.50 L409.14,84.50 L409.47,84.50 L409.80,84.50 L410.14,84.50 L410.47,84.50 L410.80,84.50 L411.13,84.50 L411.46,84.50 L411.80,84.50 L412.13,84.50 L412.46,84.50 L412.79,84.50 L413.12,84.50 L413.46,84.50 L413.79,84.50 L414.12,84.50 L414.45,84.50 L414.78,84.50 L415.12,84.50 L415.45,84.50 L415.78,84.50 L416.11,84.50 L416.44,84.50 L416.78,84.50 L417.11,84.50 L417.64,86.50 L429.72,86.50 L429.72,84.50 L430.06,84.50 L430.39,84.50 L430.72,84.50 L431.05,84.50 L431.38,84.50 L431.72,84.50 L432.05,84.50 L432.38,84.50 L432.71,84.50 L433.04,84.50 L433.38,84.50 L433.71,84.50 L434.04,84.50 L434.37,84.50 L434.70,84.50 L435.04,84.50 L435.37,84.50 L435.70,84.50 L436.03,84.50 L436.36,84.50 L436.70,84.50 L437.03,84.50 L437.36,84.50 L437.69,84.50 L438.02,84.50 L438.36,84.50 L438.69,84.50 L439.02,84.50 L439.35,84.50 L439.68,84.50 L440.02,84.50 L440.35,84.50 L440.68,84.50 L441.01,84.50 L441.34,84.50 L441.88,86.50 L453.63,86.50 L453.63,84.50 L453.96,84.50 L454.29,84.50 L454.62,84.50 L454.96,84.50 L455.29,84.50 L455.62,84.50 L455.95,84.50 L456.28,84.50 L456.62,84.50 L456.95,84.50 L457.28,84.50 L457.61,84.50 L457.94,84.50 L458.28,84.50 L458.61,84.50 L458.94,84.50 L459.27,84.50 L459.60,84.50 L459.94,84.50 L460.27,84.50 L460.60,84.50 L460.93,84.50 L461.26,84.50 L461.60,84.50 L461.93,84.50 L462.26,84.50 L462.59,84.50 L462.92,84.50 L463.26,84.50 L463.59,84.50 L463.92,84.50 L464.25,84.50 L464.58,84.50 L464.92,84.50 L465.25,84.50 L465.78,86.50 L477.86,86.50 L477.86,84.50 L478.20,84.50 L478.53,84.50 L478.86,84.50 L479.19,84.50 L479.52,84.50 L479.86,84.50 L480.19,84.50 L480.52,84.50 L480.85,84.50 L481.18,84.50 L481.52,84.50 L481.85,84.50 L482.18,84.50 L482.51,84.50 L482.84,84.50 L483.18,84.50 L483.51,84.50 L483.84,84.50 L484.17,84.50 L484.50,84.50 L484.84,84.50 L485.17,84.50 L485.50,84.50 L485.83,84.50 L486.16,84.50 L486.50,84.50 L486.83,84.50 L487.16,84.50 L487.49,84.50 L487.82,84.50 L488.16,84.50 L488.49,84.50 L488.82,84.50 L489.15,84.50 L489.48,84.50 L489.82,84.50 L490.15,84.50 L490.68,86.50 L503.10,86.50 L503.10,84.50 L503.43,84.50 L503.76,84.50 L504.09,84.50 L504.42,84.50 L504.76,84.50 L505.09,84.50 L505.42,84.50 L505.75,84.50 L506.08,84.50 L506.42,84.50 L506.75,84.50 L507.08,84.50 L507.41,84.50 L507.74,84.50 L508.08,84.50 L508.41,84.50 L508.74,84.50 L509.07,84.50 L509.40,84.50 L509.74,84.50 L510.07,84.50 L510.40,84.50 L510.73,84.50 L511.06,84.50 L511.40,84.50 L511.73,84.50 L512.06,84.50 L512.39,84.50 L512.72,84.50 L513.06,84.50 L513.39,84.50 L513.72,84.50 L514.05,84.50 L514.38,84.50 L514.72,84.50 L515.05,84.50 L515.38,84.50 L515.91,86.50 L537.96,86.50" fill="none" stroke="#f07474" stroke-width="0.8" />
<line x1="42.50" y1="178.60" x2="42.50" y2="280.50" stroke="#cfcfcf" stroke-width="1"/>
<line x1="41.00" y1="281.40" x2="42.50" y2="281.40" stroke="#b0b0b0" stroke-width="0.8"/>
<line x1="41.00" y1="258.90" x2="42.50" y2="258.90" stroke="#b0b0b0" stroke-width="0.8"/>
<line x1="41.00" y1="236.40" x2="42.50" y2="236.40" stroke="#b0b0b0" stroke-width="0.8"/>
<line x1="41.00" y1="213.90" x2="42.50" y2="213.90" stroke="#b0b0b0" stroke-width="0.8"/>
<line x1="41.00" y1="191.40" x2="42.50" y2="191.40" stroke="#b0b0b0" stroke-width="0.8"/>
<line x1="41.00" y1="270.15" x2="42.50" y2="270.15" stroke="#b0b0b0" stroke-width="0.8"/>
<line x1="41.00" y1="247.65" x2="42.50" y2="247.65" stroke="#b0b0b0" stroke-width="0.8"/>
<line x1="41.00" y1="225.15" x2="42.50" y2="225.15" stroke="#b0b0b0" stroke-width="0.8"/>
<line x1="41.00" y1="202.65" x2="42.50" y2="202.65" stroke="#b0b0b0" stroke-width="0.8"/>
<line x1="42.50" y1="280.50" x2="185.00" y2="280.50" stroke="#cfcfcf" stroke-width="1"/>
<line x1="42.30" y1="280.50" x2="42.30" y2="282.00" stroke="#b0b0b0" stroke-width="0.8"/>
<line x1="50.80" y1="280.50" x2="50.80" y2="282.00" stroke="#b0b0b0" stroke-width="0.8"/>
<line x1="59.30" y1="280.50" x2="59.30" y2="282.00" stroke="#b0b0b0" stroke-width="0.8"/>
<line x1="67.80" y1="280.50" x2="67.80" y2="282.00" stroke="#b0b0b0" stroke-width="0.8"/>
<line x1="76.30" y1="280.50" x2="76.30" y2="282.00" stroke="#b0b0b0" stroke-width="0.8"/>
<line x1="84.80" y1="280.50" x2="84.80" y2="282.00" stroke="#b0b0b0" stroke-width="0.8"/>
<line x1="93.30" y1="280.50" x2="93.30" y2="282.00" stroke="#b0b0b0" stroke-width="0.8"/>
<line x1="101.80" y1="280.50" x2="101.80" y2="282.00" stroke="#b0b0b0" stroke-width="0.8"/>
<line x1="110.30" y1="280.50" x2="110.30" y2="282.00" stroke="#b0b0b0" stroke-width="0.8"/>
<line x1="118.80" y1="280.50" x2="118.80" y2="282.00" stroke="#b0b0b0" stroke-width="0.8"/>
<line x1="127.30" y1="280.50" x2="127.30" y2="282.00" stroke="#b0b0b0" stroke-width="0.8"/>
<line x1="135.80" y1="280.50" x2="135.80" y2="282.00" stroke="#b0b0b0" stroke-width="0.8"/>
<line x1="144.30" y1="280.50" x2="144.30" y2="282.00" stroke="#b0b0b0" stroke-width="0.8"/>
<line x1="152.80" y1="280.50" x2="152.80" y2="282.00" stroke="#b0b0b0" stroke-width="0.8"/>
<line x1="161.30" y1="280.50" x2="161.30" y2="282.00" stroke="#b0b0b0" stroke-width="0.8"/>
<text x="37.00" y="283.55" font-size="6.25" font-weight="bold" text-anchor="end" fill="#000" stroke="#000" stroke-width="0.2" textLength="9.45" lengthAdjust="spacingAndGlyphs">100</text>
<text x="37.00" y="261.05" font-size="6.25" font-weight="bold" text-anchor="end" fill="#000" stroke="#000" stroke-width="0.2" textLength="9.45" lengthAdjust="spacingAndGlyphs">140</text>
<text x="37.00" y="238.55" font-size="6.25" font-weight="bold" text-anchor="end" fill="#000" stroke="#000" stroke-width="0.2" textLength="9.45" lengthAdjust="spacingAndGlyphs">180</text>
<text x="37.00" y="216.05" font-size="6.25" font-weight="bold" text-anchor="end" fill="#000" stroke="#000" stroke-width="0.2" textLength="9.45" lengthAdjust="spacingAndGlyphs">220</text>
<text x="37.00" y="193.55" font-size="6.25" font-weight="bold" text-anchor="end" fill="#000" stroke="#000" stroke-width="0.2" textLength="9.45" lengthAdjust="spacingAndGlyphs">260</text>
<text x="42.30" y="291.15" font-size="6.25" font-weight="bold" text-anchor="middle" fill="#000" stroke="#000" stroke-width="0.2" textLength="3.15" lengthAdjust="spacingAndGlyphs">0</text>
<text x="59.30" y="291.15" font-size="6.25" font-weight="bold" text-anchor="middle" fill="#000" stroke="#000" stroke-width="0.2" textLength="3.15" lengthAdjust="spacingAndGlyphs">1</text>
<text x="76.30" y="291.15" font-size="6.25" font-weight="bold" text-anchor="middle" fill="#000" stroke="#000" stroke-width="0.2" textLength="3.15" lengthAdjust="spacingAndGlyphs">2</text>
<text x="93.30" y="291.15" font-size="6.25" font-weight="bold" text-anchor="middle" fill="#000" stroke="#000" stroke-width="0.2" textLength="3.15" lengthAdjust="spacingAndGlyphs">3</text>
<text x="110.30" y="291.15" font-size="6.25" font-weight="bold" text-anchor="middle" fill="#000" stroke="#000" stroke-width="0.2" textLength="3.15" lengthAdjust="spacingAndGlyphs">4</text>
<text x="127.30" y="291.15" font-size="6.25" font-weight="bold" text-anchor="middle" fill="#000" stroke="#000" stroke-width="0.2" textLength="3.15" lengthAdjust="spacingAndGlyphs">5</text>
<text x="144.30" y="291.15" font-size="6.25" font-weight="bold" text-anchor="middle" fill="#000" stroke="#000" stroke-width="0.2" textLength="3.15" lengthAdjust="spacingAndGlyphs">6</text>
<text x="161.30" y="291.15" font-size="6.25" font-weight="bold" text-anchor="middle" fill="#000" stroke="#000" stroke-width="0.2" textLength="3.15" lengthAdjust="spacingAndGlyphs">7</text>
<text x="27.80" y="178.60" font-size="6.69" font-weight="bold" text-anchor="start" fill="#000" stroke="#000" stroke-width="0.2" textLength="9.10" lengthAdjust="spacingAndGlyphs">RU</text>
<line x1="65.50" y1="178.60" x2="65.50" y2="280.50" stroke="#7a7a7a" stroke-width="1.1"/>
<text x="67.90" y="195.80" font-size="9.88" font-weight="bold" text-anchor="start" fill="#000" stroke="#000" stroke-width="0.3" textLength="34.30" lengthAdjust="spacingAndGlyphs">1.35 μM</text>
<text x="175.00" y="289.00" font-size="9.59" font-weight="bold" text-anchor="start" fill="#000" stroke="#000" stroke-width="0.3" textLength="13.40" lengthAdjust="spacingAndGlyphs">μM</text>
<text x="80.40" y="302.40" font-size="9.30" font-weight="bold" text-anchor="start" fill="#000" stroke="#000" stroke-width="0.3" textLength="55.60" lengthAdjust="spacingAndGlyphs">Concentration</text>
<text transform="translate(22.60,248.00) rotate(-90)" x="0" y="0" font-size="9.01" font-weight="bold" fill="#000" stroke="#000" stroke-width="0.3" textLength="38.00" lengthAdjust="spacingAndGlyphs">Response</text>
<path d="M51.00,270.99 L53.16,265.26 L55.32,260.22 L57.48,255.75 L59.64,251.76 L61.80,248.17 L63.96,244.94 L66.12,242.00 L68.28,239.32 L70.44,236.87 L72.60,234.62 L74.76,232.54 L76.92,230.62 L79.08,228.84 L81.24,227.18 L83.40,225.64 L85.56,224.19 L87.72,222.84 L89.88,221.57 L92.04,220.38 L94.20,219.25 L96.36,218.19 L98.52,217.18 L100.68,216.23 L102.84,215.33 L105.00,214.47 L107.16,213.66 L109.32,212.89 L111.48,212.15 L113.64,211.44 L115.80,210.77 L117.96,210.13 L120.12,209.51 L122.28,208.92 L124.44,208.35 L126.60,207.81 L128.76,207.29 L130.92,206.79 L133.08,206.30 L135.24,205.84 L137.40,205.39 L139.56,204.96 L141.72,204.55 L143.88,204.14 L146.04,203.76 L148.20,203.38 L150.36,203.02 L152.52,202.67 L154.68,202.33 L156.84,202.00 L159.00,201.68 L161.16,201.37 L163.32,201.07 L165.48,200.78 L167.64,200.50 L169.80,200.22 L171.96,199.96 L174.12,199.70 L176.28,199.45 L178.44,199.20 L180.60,198.96" fill="none" stroke="#979797" stroke-width="0.85" />
<path d="M51.20,273.10 L52.72,275.00 L51.20,276.90 L49.68,275.00Z" fill="#f00"/>
<path d="M59.90,244.10 L61.42,246.00 L59.90,247.90 L58.38,246.00Z" fill="#f00"/>
<path d="M77.10,225.10 L78.62,227.00 L77.10,228.90 L75.58,227.00Z" fill="#f00"/>
<path d="M111.90,223.50 L113.42,225.40 L111.90,227.30 L110.38,225.40Z" fill="#f00"/>
<path d="M181.30,189.20 L182.82,191.10 L181.30,193.00 L179.78,191.10Z" fill="#f00"/>
<line x1="211.50" y1="179.20" x2="211.50" y2="280.50" stroke="#ececec" stroke-width="1"/>
<line x1="210.40" y1="281.40" x2="211.90" y2="281.40" stroke="#b0b0b0" stroke-width="0.8"/>
<line x1="210.40" y1="264.80" x2="211.90" y2="264.80" stroke="#b0b0b0" stroke-width="0.8"/>
<line x1="210.40" y1="248.20" x2="211.90" y2="248.20" stroke="#b0b0b0" stroke-width="0.8"/>
<line x1="210.40" y1="231.60" x2="211.90" y2="231.60" stroke="#b0b0b0" stroke-width="0.8"/>
<line x1="210.40" y1="215.00" x2="211.90" y2="215.00" stroke="#b0b0b0" stroke-width="0.8"/>
<line x1="210.40" y1="198.40" x2="211.90" y2="198.40" stroke="#b0b0b0" stroke-width="0.8"/>
<line x1="210.40" y1="273.10" x2="211.90" y2="273.10" stroke="#b0b0b0" stroke-width="0.8"/>
<line x1="210.40" y1="256.50" x2="211.90" y2="256.50" stroke="#b0b0b0" stroke-width="0.8"/>
<line x1="210.40" y1="239.90" x2="211.90" y2="239.90" stroke="#b0b0b0" stroke-width="0.8"/>
<line x1="210.40" y1="223.30" x2="211.90" y2="223.30" stroke="#b0b0b0" stroke-width="0.8"/>
<line x1="210.40" y1="206.70" x2="211.90" y2="206.70" stroke="#b0b0b0" stroke-width="0.8"/>
<line x1="211.90" y1="280.50" x2="353.30" y2="280.50" stroke="#cfcfcf" stroke-width="1"/>
<line x1="211.40" y1="280.50" x2="211.40" y2="282.00" stroke="#b0b0b0" stroke-width="0.8"/>
<line x1="221.30" y1="280.50" x2="221.30" y2="282.00" stroke="#b0b0b0" stroke-width="0.8"/>
<line x1="231.20" y1="280.50" x2="231.20" y2="282.00" stroke="#b0b0b0" stroke-width="0.8"/>
<line x1="241.10" y1="280.50" x2="241.10" y2="282.00" stroke="#b0b0b0" stroke-width="0.8"/>
<line x1="251.00" y1="280.50" x2="251.00" y2="282.00" stroke="#b0b0b0" stroke-width="0.8"/>
<line x1="260.90" y1="280.50" x2="260.90" y2="282.00" stroke="#b0b0b0" stroke-width="0.8"/>
<line x1="270.80" y1="280.50" x2="270.80" y2="282.00" stroke="#b0b0b0" stroke-width="0.8"/>
<line x1="280.70" y1="280.50" x2="280.70" y2="282.00" stroke="#b0b0b0" stroke-width="0.8"/>
<line x1="290.60" y1="280.50" x2="290.60" y2="282.00" stroke="#b0b0b0" stroke-width="0.8"/>
<line x1="300.50" y1="280.50" x2="300.50" y2="282.00" stroke="#b0b0b0" stroke-width="0.8"/>
<line x1="310.40" y1="280.50" x2="310.40" y2="282.00" stroke="#b0b0b0" stroke-width="0.8"/>
<line x1="320.30" y1="280.50" x2="320.30" y2="282.00" stroke="#b0b0b0" stroke-width="0.8"/>
<line x1="330.20" y1="280.50" x2="330.20" y2="282.00" stroke="#b0b0b0" stroke-width="0.8"/>
<text x="205.40" y="283.55" font-size="6.25" font-weight="bold" text-anchor="end" fill="#000" stroke="#000" stroke-width="0.2" textLength="6.30" lengthAdjust="spacingAndGlyphs">20</text>
<text x="205.40" y="266.95" font-size="6.25" font-weight="bold" text-anchor="end" fill="#000" stroke="#000" stroke-width="0.2" textLength="6.30" lengthAdjust="spacingAndGlyphs">40</text>
<text x="205.40" y="250.35" font-size="6.25" font-weight="bold" text-anchor="end" fill="#000" stroke="#000" stroke-width="0.2" textLength="6.30" lengthAdjust="spacingAndGlyphs">60</text>
<text x="205.40" y="233.75" font-size="6.25" font-weight="bold" text-anchor="end" fill="#000" stroke="#000" stroke-width="0.2" textLength="6.30" lengthAdjust="spacingAndGlyphs">80</text>
<text x="205.40" y="217.15" font-size="6.25" font-weight="bold" text-anchor="end" fill="#000" stroke="#000" stroke-width="0.2" textLength="9.45" lengthAdjust="spacingAndGlyphs">100</text>
<text x="205.40" y="200.55" font-size="6.25" font-weight="bold" text-anchor="end" fill="#000" stroke="#000" stroke-width="0.2" textLength="9.45" lengthAdjust="spacingAndGlyphs">120</text>
<text x="211.40" y="291.35" font-size="6.25" font-weight="bold" text-anchor="middle" fill="#000" stroke="#000" stroke-width="0.2" textLength="3.15" lengthAdjust="spacingAndGlyphs">0</text>
<text x="231.20" y="291.35" font-size="6.25" font-weight="bold" text-anchor="middle" fill="#000" stroke="#000" stroke-width="0.2" textLength="3.15" lengthAdjust="spacingAndGlyphs">2</text>
<text x="251.00" y="291.35" font-size="6.25" font-weight="bold" text-anchor="middle" fill="#000" stroke="#000" stroke-width="0.2" textLength="3.15" lengthAdjust="spacingAndGlyphs">4</text>
<text x="270.80" y="291.35" font-size="6.25" font-weight="bold" text-anchor="middle" fill="#000" stroke="#000" stroke-width="0.2" textLength="3.15" lengthAdjust="spacingAndGlyphs">6</text>
<text x="290.60" y="291.35" font-size="6.25" font-weight="bold" text-anchor="middle" fill="#000" stroke="#000" stroke-width="0.2" textLength="3.15" lengthAdjust="spacingAndGlyphs">8</text>
<text x="310.40" y="291.35" font-size="6.25" font-weight="bold" text-anchor="middle" fill="#000" stroke="#000" stroke-width="0.2" textLength="6.30" lengthAdjust="spacingAndGlyphs">10</text>
<text x="330.20" y="291.35" font-size="6.25" font-weight="bold" text-anchor="middle" fill="#000" stroke="#000" stroke-width="0.2" textLength="6.30" lengthAdjust="spacingAndGlyphs">12</text>
<text x="193.20" y="178.60" font-size="6.69" font-weight="bold" text-anchor="start" fill="#000" stroke="#000" stroke-width="0.2" textLength="9.10" lengthAdjust="spacingAndGlyphs">RU</text>
<line x1="214.50" y1="179.20" x2="214.50" y2="280.50" stroke="#7a7a7a" stroke-width="1.1"/>
<text x="219.90" y="196.30" font-size="9.88" font-weight="bold" text-anchor="start" fill="#000" stroke="#000" stroke-width="0.3" textLength="35.10" lengthAdjust="spacingAndGlyphs">0.29 μM</text>
<text x="345.40" y="289.60" font-size="9.59" font-weight="bold" text-anchor="start" fill="#000" stroke="#000" stroke-width="0.3" textLength="13.20" lengthAdjust="spacingAndGlyphs">μM</text>
<text x="270.80" y="301.90" font-size="9.30" font-weight="bold" text-anchor="start" fill="#000" stroke="#000" stroke-width="0.3" textLength="57.90" lengthAdjust="spacingAndGlyphs">Concentration</text>
<text transform="translate(192.40,248.00) rotate(-90)" x="0" y="0" font-size="9.01" font-weight="bold" fill="#000" stroke="#000" stroke-width="0.3" textLength="38.00" lengthAdjust="spacingAndGlyphs">Response</text>
<path d="M220.40,270.15 L222.57,258.55 L224.74,249.55 L226.91,242.36 L229.09,236.48 L231.26,231.59 L233.43,227.46 L235.60,223.92 L237.77,220.85 L239.94,218.17 L242.12,215.81 L244.29,213.71 L246.46,211.83 L248.63,210.14 L250.80,208.61 L252.97,207.22 L255.15,205.95 L257.32,204.79 L259.49,203.72 L261.66,202.73 L263.83,201.82 L266.00,200.97 L268.18,200.18 L270.35,199.44 L272.52,198.75 L274.69,198.11 L276.86,197.50 L279.03,196.93 L281.21,196.39 L283.38,195.88 L285.55,195.40 L287.72,194.95 L289.89,194.52 L292.06,194.11 L294.24,193.72 L296.41,193.34 L298.58,192.99 L300.75,192.65 L302.92,192.33 L305.09,192.02 L307.27,191.72 L309.44,191.44 L311.61,191.17 L313.78,190.91 L315.95,190.66 L318.12,190.41 L320.30,190.18 L322.47,189.96 L324.64,189.74 L326.81,189.54 L328.98,189.34 L331.15,189.14 L333.33,188.96 L335.50,188.78 L337.67,188.60 L339.84,188.43 L342.01,188.27 L344.19,188.11 L346.36,187.96 L348.53,187.81 L350.70,187.66" fill="none" stroke="#979797" stroke-width="0.85" />
<path d="M220.30,271.00 L221.82,272.90 L220.30,274.80 L218.78,272.90Z" fill="#f00"/>
<path d="M229.00,236.70 L230.52,238.60 L229.00,240.50 L227.48,238.60Z" fill="#f00"/>
<path d="M246.30,203.20 L247.82,205.10 L246.30,207.00 L244.78,205.10Z" fill="#f00"/>
<path d="M281.40,191.20 L282.92,193.10 L281.40,195.00 L279.88,193.10Z" fill="#f00"/>
<path d="M350.70,191.10 L352.22,193.00 L350.70,194.90 L349.18,193.00Z" fill="#f00"/>
<line x1="393.50" y1="179.50" x2="393.50" y2="281.40" stroke="#cfcfcf" stroke-width="1"/>
<line x1="391.80" y1="281.40" x2="393.30" y2="281.40" stroke="#b0b0b0" stroke-width="0.8"/>
<line x1="391.80" y1="264.60" x2="393.30" y2="264.60" stroke="#b0b0b0" stroke-width="0.8"/>
<line x1="391.80" y1="247.90" x2="393.30" y2="247.90" stroke="#b0b0b0" stroke-width="0.8"/>
<line x1="391.80" y1="231.10" x2="393.30" y2="231.10" stroke="#b0b0b0" stroke-width="0.8"/>
<line x1="391.80" y1="214.40" x2="393.30" y2="214.40" stroke="#b0b0b0" stroke-width="0.8"/>
<line x1="391.80" y1="197.60" x2="393.30" y2="197.60" stroke="#b0b0b0" stroke-width="0.8"/>
<line x1="391.80" y1="273.00" x2="393.30" y2="273.00" stroke="#b0b0b0" stroke-width="0.8"/>
<line x1="391.80" y1="256.25" x2="393.30" y2="256.25" stroke="#b0b0b0" stroke-width="0.8"/>
<line x1="391.80" y1="239.50" x2="393.30" y2="239.50" stroke="#b0b0b0" stroke-width="0.8"/>
<line x1="391.80" y1="222.75" x2="393.30" y2="222.75" stroke="#b0b0b0" stroke-width="0.8"/>
<line x1="391.80" y1="206.00" x2="393.30" y2="206.00" stroke="#b0b0b0" stroke-width="0.8"/>
<line x1="393.30" y1="281.50" x2="535.00" y2="281.50" stroke="#cfcfcf" stroke-width="1"/>
<line x1="393.30" y1="281.40" x2="393.30" y2="282.90" stroke="#b0b0b0" stroke-width="0.8"/>
<line x1="405.60" y1="281.40" x2="405.60" y2="282.90" stroke="#b0b0b0" stroke-width="0.8"/>
<line x1="417.90" y1="281.40" x2="417.90" y2="282.90" stroke="#b0b0b0" stroke-width="0.8"/>
<line x1="430.20" y1="281.40" x2="430.20" y2="282.90" stroke="#b0b0b0" stroke-width="0.8"/>
<line x1="442.50" y1="281.40" x2="442.50" y2="282.90" stroke="#b0b0b0" stroke-width="0.8"/>
<line x1="454.80" y1="281.40" x2="454.80" y2="282.90" stroke="#b0b0b0" stroke-width="0.8"/>
<line x1="467.10" y1="281.40" x2="467.10" y2="282.90" stroke="#b0b0b0" stroke-width="0.8"/>
<line x1="479.40" y1="281.40" x2="479.40" y2="282.90" stroke="#b0b0b0" stroke-width="0.8"/>
<line x1="491.70" y1="281.40" x2="491.70" y2="282.90" stroke="#b0b0b0" stroke-width="0.8"/>
<line x1="504.00" y1="281.40" x2="504.00" y2="282.90" stroke="#b0b0b0" stroke-width="0.8"/>
<line x1="516.30" y1="281.40" x2="516.30" y2="282.90" stroke="#b0b0b0" stroke-width="0.8"/>
<text x="388.20" y="283.55" font-size="6.25" font-weight="bold" text-anchor="end" fill="#000" stroke="#000" stroke-width="0.2" textLength="8.50" lengthAdjust="spacingAndGlyphs">-10</text>
<text x="388.20" y="266.75" font-size="6.25" font-weight="bold" text-anchor="end" fill="#000" stroke="#000" stroke-width="0.2" textLength="3.15" lengthAdjust="spacingAndGlyphs">0</text>
<text x="388.20" y="250.05" font-size="6.25" font-weight="bold" text-anchor="end" fill="#000" stroke="#000" stroke-width="0.2" textLength="6.30" lengthAdjust="spacingAndGlyphs">10</text>
<text x="388.20" y="233.25" font-size="6.25" font-weight="bold" text-anchor="end" fill="#000" stroke="#000" stroke-width="0.2" textLength="6.30" lengthAdjust="spacingAndGlyphs">20</text>
<text x="388.20" y="216.55" font-size="6.25" font-weight="bold" text-anchor="end" fill="#000" stroke="#000" stroke-width="0.2" textLength="6.30" lengthAdjust="spacingAndGlyphs">30</text>
<text x="388.20" y="199.75" font-size="6.25" font-weight="bold" text-anchor="end" fill="#000" stroke="#000" stroke-width="0.2" textLength="6.30" lengthAdjust="spacingAndGlyphs">40</text>
<text x="393.30" y="291.65" font-size="6.25" font-weight="bold" text-anchor="middle" fill="#000" stroke="#000" stroke-width="0.2" textLength="3.15" lengthAdjust="spacingAndGlyphs">0</text>
<text x="417.90" y="291.65" font-size="6.25" font-weight="bold" text-anchor="middle" fill="#000" stroke="#000" stroke-width="0.2" textLength="3.15" lengthAdjust="spacingAndGlyphs">5</text>
<text x="442.50" y="291.65" font-size="6.25" font-weight="bold" text-anchor="middle" fill="#000" stroke="#000" stroke-width="0.2" textLength="6.30" lengthAdjust="spacingAndGlyphs">10</text>
<text x="467.10" y="291.65" font-size="6.25" font-weight="bold" text-anchor="middle" fill="#000" stroke="#000" stroke-width="0.2" textLength="6.30" lengthAdjust="spacingAndGlyphs">15</text>
<text x="491.70" y="291.65" font-size="6.25" font-weight="bold" text-anchor="middle" fill="#000" stroke="#000" stroke-width="0.2" textLength="6.30" lengthAdjust="spacingAndGlyphs">20</text>
<text x="516.30" y="291.65" font-size="6.25" font-weight="bold" text-anchor="middle" fill="#000" stroke="#000" stroke-width="0.2" textLength="6.30" lengthAdjust="spacingAndGlyphs">25</text>
<text x="378.20" y="178.60" font-size="6.69" font-weight="bold" text-anchor="start" fill="#000" stroke="#000" stroke-width="0.2" textLength="9.10" lengthAdjust="spacingAndGlyphs">RU</text>
<line x1="492.50" y1="179.00" x2="492.50" y2="281.00" stroke="#7a7a7a" stroke-width="1.1"/>
<text x="451.60" y="197.10" font-size="9.88" font-weight="bold" text-anchor="start" fill="#000" stroke="#000" stroke-width="0.3" textLength="34.40" lengthAdjust="spacingAndGlyphs">20.4 μM</text>
<text x="527.20" y="290.10" font-size="9.59" font-weight="bold" text-anchor="start" fill="#000" stroke="#000" stroke-width="0.3" textLength="13.50" lengthAdjust="spacingAndGlyphs">μM</text>
<text x="455.30" y="301.90" font-size="9.30" font-weight="bold" text-anchor="start" fill="#000" stroke="#000" stroke-width="0.3" textLength="55.50" lengthAdjust="spacingAndGlyphs">Concentration</text>
<text transform="translate(374.80,248.00) rotate(-90)" x="0" y="0" font-size="9.01" font-weight="bold" fill="#000" stroke="#000" stroke-width="0.3" textLength="38.00" lengthAdjust="spacingAndGlyphs">Response</text>
<path d="M402.40,274.44 L404.55,271.41 L406.71,268.49 L408.87,265.69 L411.02,262.98 L413.17,260.37 L415.33,257.84 L417.49,255.41 L419.64,253.05 L421.80,250.77 L423.95,248.57 L426.10,246.43 L428.26,244.37 L430.42,242.36 L432.57,240.42 L434.73,238.54 L436.88,236.71 L439.03,234.93 L441.19,233.20 L443.35,231.53 L445.50,229.90 L447.65,228.31 L449.81,226.77 L451.97,225.27 L454.12,223.81 L456.27,222.39 L458.43,221.00 L460.59,219.65 L462.74,218.33 L464.89,217.04 L467.05,215.79 L469.21,214.57 L471.36,213.37 L473.51,212.21 L475.67,211.07 L477.83,209.95 L479.98,208.87 L482.13,207.80 L484.29,206.76 L486.45,205.75 L488.60,204.75 L490.75,203.78 L492.91,202.83 L495.07,201.90 L497.22,200.98 L499.38,200.09 L501.53,199.21 L503.69,198.36 L505.84,197.51 L508.00,196.69 L510.15,195.88 L512.31,195.09 L514.46,194.31 L516.62,193.55 L518.77,192.80 L520.93,192.07 L523.08,191.35 L525.24,190.64 L527.39,189.95 L529.55,189.27 L531.70,188.60" fill="none" stroke="#979797" stroke-width="0.85" />
<path d="M402.40,273.10 L403.92,275.00 L402.40,276.90 L400.88,275.00Z" fill="#f00"/>
<path d="M410.80,264.50 L412.32,266.40 L410.80,268.30 L409.28,266.40Z" fill="#f00"/>
<path d="M428.00,244.60 L429.52,246.50 L428.00,248.40 L426.48,246.50Z" fill="#f00"/>
<path d="M463.00,213.70 L464.52,215.60 L463.00,217.50 L461.48,215.60Z" fill="#f00"/>
<path d="M532.20,187.10 L533.72,189.00 L532.20,190.90 L530.68,189.00Z" fill="#f00"/>
<line x1="37.50" y1="367.00" x2="37.50" y2="466.20" stroke="#cfcfcf" stroke-width="1"/>
<line x1="35.50" y1="466.60" x2="37.00" y2="466.60" stroke="#b0b0b0" stroke-width="0.8"/>
<line x1="35.50" y1="445.10" x2="37.00" y2="445.10" stroke="#b0b0b0" stroke-width="0.8"/>
<line x1="35.50" y1="423.70" x2="37.00" y2="423.70" stroke="#b0b0b0" stroke-width="0.8"/>
<line x1="35.50" y1="402.20" x2="37.00" y2="402.20" stroke="#b0b0b0" stroke-width="0.8"/>
<line x1="35.50" y1="380.80" x2="37.00" y2="380.80" stroke="#b0b0b0" stroke-width="0.8"/>
<line x1="35.50" y1="455.85" x2="37.00" y2="455.85" stroke="#b0b0b0" stroke-width="0.8"/>
<line x1="35.50" y1="434.40" x2="37.00" y2="434.40" stroke="#b0b0b0" stroke-width="0.8"/>
<line x1="35.50" y1="412.95" x2="37.00" y2="412.95" stroke="#b0b0b0" stroke-width="0.8"/>
<line x1="35.50" y1="391.50" x2="37.00" y2="391.50" stroke="#b0b0b0" stroke-width="0.8"/>
<line x1="37.00" y1="466.50" x2="173.60" y2="466.50" stroke="#cfcfcf" stroke-width="1"/>
<line x1="35.80" y1="466.20" x2="35.80" y2="467.70" stroke="#b0b0b0" stroke-width="0.8"/>
<line x1="46.10" y1="466.20" x2="46.10" y2="467.70" stroke="#b0b0b0" stroke-width="0.8"/>
<line x1="56.40" y1="466.20" x2="56.40" y2="467.70" stroke="#b0b0b0" stroke-width="0.8"/>
<line x1="66.70" y1="466.20" x2="66.70" y2="467.70" stroke="#b0b0b0" stroke-width="0.8"/>
<line x1="77.00" y1="466.20" x2="77.00" y2="467.70" stroke="#b0b0b0" stroke-width="0.8"/>
<line x1="87.30" y1="466.20" x2="87.30" y2="467.70" stroke="#b0b0b0" stroke-width="0.8"/>
<line x1="97.60" y1="466.20" x2="97.60" y2="467.70" stroke="#b0b0b0" stroke-width="0.8"/>
<line x1="107.90" y1="466.20" x2="107.90" y2="467.70" stroke="#b0b0b0" stroke-width="0.8"/>
<line x1="118.20" y1="466.20" x2="118.20" y2="467.70" stroke="#b0b0b0" stroke-width="0.8"/>
<line x1="128.50" y1="466.20" x2="128.50" y2="467.70" stroke="#b0b0b0" stroke-width="0.8"/>
<line x1="138.80" y1="466.20" x2="138.80" y2="467.70" stroke="#b0b0b0" stroke-width="0.8"/>
<line x1="149.10" y1="466.20" x2="149.10" y2="467.70" stroke="#b0b0b0" stroke-width="0.8"/>
<line x1="159.40" y1="466.20" x2="159.40" y2="467.70" stroke="#b0b0b0" stroke-width="0.8"/>
<text x="30.50" y="468.75" font-size="6.25" font-weight="bold" text-anchor="end" fill="#000" stroke="#000" stroke-width="0.2" textLength="6.30" lengthAdjust="spacingAndGlyphs">50</text>
<text x="30.50" y="447.25" font-size="6.25" font-weight="bold" text-anchor="end" fill="#000" stroke="#000" stroke-width="0.2" textLength="6.30" lengthAdjust="spacingAndGlyphs">70</text>
<text x="30.50" y="425.85" font-size="6.25" font-weight="bold" text-anchor="end" fill="#000" stroke="#000" stroke-width="0.2" textLength="6.30" lengthAdjust="spacingAndGlyphs">90</text>
<text x="30.50" y="404.35" font-size="6.25" font-weight="bold" text-anchor="end" fill="#000" stroke="#000" stroke-width="0.2" textLength="9.45" lengthAdjust="spacingAndGlyphs">110</text>
<text x="30.50" y="382.95" font-size="6.25" font-weight="bold" text-anchor="end" fill="#000" stroke="#000" stroke-width="0.2" textLength="9.45" lengthAdjust="spacingAndGlyphs">130</text>
<text x="35.80" y="475.25" font-size="6.25" font-weight="bold" text-anchor="middle" fill="#000" stroke="#000" stroke-width="0.2" textLength="3.15" lengthAdjust="spacingAndGlyphs">0</text>
<text x="56.40" y="475.25" font-size="6.25" font-weight="bold" text-anchor="middle" fill="#000" stroke="#000" stroke-width="0.2" textLength="6.30" lengthAdjust="spacingAndGlyphs">20</text>
<text x="77.00" y="475.25" font-size="6.25" font-weight="bold" text-anchor="middle" fill="#000" stroke="#000" stroke-width="0.2" textLength="6.30" lengthAdjust="spacingAndGlyphs">40</text>
<text x="97.60" y="475.25" font-size="6.25" font-weight="bold" text-anchor="middle" fill="#000" stroke="#000" stroke-width="0.2" textLength="6.30" lengthAdjust="spacingAndGlyphs">60</text>
<text x="118.20" y="475.25" font-size="6.25" font-weight="bold" text-anchor="middle" fill="#000" stroke="#000" stroke-width="0.2" textLength="6.30" lengthAdjust="spacingAndGlyphs">80</text>
<text x="138.80" y="475.25" font-size="6.25" font-weight="bold" text-anchor="middle" fill="#000" stroke="#000" stroke-width="0.2" textLength="9.45" lengthAdjust="spacingAndGlyphs">100</text>
<text x="159.40" y="475.25" font-size="6.25" font-weight="bold" text-anchor="middle" fill="#000" stroke="#000" stroke-width="0.2" textLength="9.45" lengthAdjust="spacingAndGlyphs">120</text>
<text x="22.00" y="366.00" font-size="6.69" font-weight="bold" text-anchor="start" fill="#000" stroke="#000" stroke-width="0.2" textLength="8.50" lengthAdjust="spacingAndGlyphs">RU</text>
<line x1="37.50" y1="367.00" x2="37.50" y2="466.20" stroke="#7a7a7a" stroke-width="1.1"/>
<text x="42.00" y="374.10" font-size="9.88" font-weight="bold" text-anchor="start" fill="#000" stroke="#000" stroke-width="0.3" textLength="33.60" lengthAdjust="spacingAndGlyphs">1.85 μM</text>
<text x="163.70" y="472.70" font-size="9.59" font-weight="bold" text-anchor="start" fill="#000" stroke="#000" stroke-width="0.3" textLength="14.80" lengthAdjust="spacingAndGlyphs">μM</text>
<text x="72.40" y="486.10" font-size="9.30" font-weight="bold" text-anchor="start" fill="#000" stroke="#000" stroke-width="0.3" textLength="54.30" lengthAdjust="spacingAndGlyphs">Concentration</text>
<text transform="translate(16.30,433.20) rotate(-90)" x="0" y="0" font-size="9.01" font-weight="bold" fill="#000" stroke="#000" stroke-width="0.3" textLength="36.10" lengthAdjust="spacingAndGlyphs">Response</text>
<path d="M43.50,461.85 L45.55,446.57 L47.60,435.69 L49.65,427.54 L51.69,421.21 L53.74,416.16 L55.79,412.03 L57.84,408.58 L59.89,405.67 L61.94,403.18 L63.98,401.02 L66.03,399.13 L68.08,397.47 L70.13,395.99 L72.18,394.66 L74.22,393.47 L76.27,392.39 L78.32,391.41 L80.37,390.52 L82.42,389.70 L84.47,388.95 L86.52,388.25 L88.56,387.61 L90.61,387.01 L92.66,386.45 L94.71,385.93 L96.76,385.45 L98.81,384.99 L100.85,384.56 L102.90,384.16 L104.95,383.78 L107.00,383.42 L109.05,383.08 L111.09,382.76 L113.14,382.46 L115.19,382.17 L117.24,381.89 L119.29,381.63 L121.34,381.38 L123.39,381.14 L125.43,380.91 L127.48,380.69 L129.53,380.48 L131.58,380.28 L133.63,380.09 L135.68,379.91 L137.72,379.73 L139.77,379.56 L141.82,379.40 L143.87,379.24 L145.92,379.09 L147.97,378.94 L150.01,378.80 L152.06,378.66 L154.11,378.53 L156.16,378.40 L158.21,378.28 L160.25,378.16 L162.30,378.05 L164.35,377.93 L166.40,377.82" fill="none" stroke="#979797" stroke-width="0.85" />
<path d="M43.50,462.20 L45.02,464.10 L43.50,466.00 L41.98,464.10Z" fill="#f00"/>
<path d="M52.10,419.60 L53.62,421.50 L52.10,423.40 L50.58,421.50Z" fill="#f00"/>
<path d="M68.50,397.90 L70.02,399.80 L68.50,401.70 L66.98,399.80Z" fill="#f00"/>
<path d="M101.70,379.50 L103.22,381.40 L101.70,383.30 L100.18,381.40Z" fill="#f00"/>
<path d="M167.70,377.70 L169.22,379.60 L167.70,381.50 L166.18,379.60Z" fill="#f00"/>
<line x1="201.50" y1="368.00" x2="201.50" y2="466.30" stroke="#cfcfcf" stroke-width="1"/>
<line x1="199.50" y1="466.80" x2="201.00" y2="466.80" stroke="#b0b0b0" stroke-width="0.8"/>
<line x1="199.50" y1="442.30" x2="201.00" y2="442.30" stroke="#b0b0b0" stroke-width="0.8"/>
<line x1="199.50" y1="417.60" x2="201.00" y2="417.60" stroke="#b0b0b0" stroke-width="0.8"/>
<line x1="199.50" y1="393.10" x2="201.00" y2="393.10" stroke="#b0b0b0" stroke-width="0.8"/>
<line x1="199.50" y1="369.10" x2="201.00" y2="369.10" stroke="#b0b0b0" stroke-width="0.8"/>
<line x1="199.50" y1="454.55" x2="201.00" y2="454.55" stroke="#b0b0b0" stroke-width="0.8"/>
<line x1="199.50" y1="429.95" x2="201.00" y2="429.95" stroke="#b0b0b0" stroke-width="0.8"/>
<line x1="199.50" y1="405.35" x2="201.00" y2="405.35" stroke="#b0b0b0" stroke-width="0.8"/>
<line x1="199.50" y1="381.10" x2="201.00" y2="381.10" stroke="#b0b0b0" stroke-width="0.8"/>
<line x1="201.00" y1="466.50" x2="339.00" y2="466.50" stroke="#cfcfcf" stroke-width="1"/>
<line x1="200.30" y1="466.30" x2="200.30" y2="467.80" stroke="#b0b0b0" stroke-width="0.8"/>
<line x1="211.32" y1="466.30" x2="211.32" y2="467.80" stroke="#b0b0b0" stroke-width="0.8"/>
<line x1="222.34" y1="466.30" x2="222.34" y2="467.80" stroke="#b0b0b0" stroke-width="0.8"/>
<line x1="233.36" y1="466.30" x2="233.36" y2="467.80" stroke="#b0b0b0" stroke-width="0.8"/>
<line x1="244.38" y1="466.30" x2="244.38" y2="467.80" stroke="#b0b0b0" stroke-width="0.8"/>
<line x1="255.40" y1="466.30" x2="255.40" y2="467.80" stroke="#b0b0b0" stroke-width="0.8"/>
<line x1="266.42" y1="466.30" x2="266.42" y2="467.80" stroke="#b0b0b0" stroke-width="0.8"/>
<line x1="277.44" y1="466.30" x2="277.44" y2="467.80" stroke="#b0b0b0" stroke-width="0.8"/>
<line x1="288.46" y1="466.30" x2="288.46" y2="467.80" stroke="#b0b0b0" stroke-width="0.8"/>
<line x1="299.48" y1="466.30" x2="299.48" y2="467.80" stroke="#b0b0b0" stroke-width="0.8"/>
<line x1="310.50" y1="466.30" x2="310.50" y2="467.80" stroke="#b0b0b0" stroke-width="0.8"/>
<text x="195.50" y="468.95" font-size="6.25" font-weight="bold" text-anchor="end" fill="#000" stroke="#000" stroke-width="0.2" textLength="8.50" lengthAdjust="spacingAndGlyphs">-80</text>
<text x="195.50" y="444.45" font-size="6.25" font-weight="bold" text-anchor="end" fill="#000" stroke="#000" stroke-width="0.2" textLength="8.50" lengthAdjust="spacingAndGlyphs">-40</text>
<text x="195.50" y="419.75" font-size="6.25" font-weight="bold" text-anchor="end" fill="#000" stroke="#000" stroke-width="0.2" textLength="3.15" lengthAdjust="spacingAndGlyphs">0</text>
<text x="195.50" y="395.25" font-size="6.25" font-weight="bold" text-anchor="end" fill="#000" stroke="#000" stroke-width="0.2" textLength="6.30" lengthAdjust="spacingAndGlyphs">40</text>
<text x="195.50" y="371.25" font-size="6.25" font-weight="bold" text-anchor="end" fill="#000" stroke="#000" stroke-width="0.2" textLength="6.30" lengthAdjust="spacingAndGlyphs">80</text>
<text x="200.30" y="475.25" font-size="6.25" font-weight="bold" text-anchor="middle" fill="#000" stroke="#000" stroke-width="0.2" textLength="3.15" lengthAdjust="spacingAndGlyphs">0</text>
<text x="222.34" y="475.25" font-size="6.25" font-weight="bold" text-anchor="middle" fill="#000" stroke="#000" stroke-width="0.2" textLength="6.30" lengthAdjust="spacingAndGlyphs">20</text>
<text x="244.38" y="475.25" font-size="6.25" font-weight="bold" text-anchor="middle" fill="#000" stroke="#000" stroke-width="0.2" textLength="6.30" lengthAdjust="spacingAndGlyphs">40</text>
<text x="266.42" y="475.25" font-size="6.25" font-weight="bold" text-anchor="middle" fill="#000" stroke="#000" stroke-width="0.2" textLength="6.30" lengthAdjust="spacingAndGlyphs">60</text>
<text x="288.46" y="475.25" font-size="6.25" font-weight="bold" text-anchor="middle" fill="#000" stroke="#000" stroke-width="0.2" textLength="6.30" lengthAdjust="spacingAndGlyphs">80</text>
<text x="310.50" y="475.25" font-size="6.25" font-weight="bold" text-anchor="middle" fill="#000" stroke="#000" stroke-width="0.2" textLength="9.45" lengthAdjust="spacingAndGlyphs">100</text>
<text x="186.90" y="365.90" font-size="6.69" font-weight="bold" text-anchor="start" fill="#000" stroke="#000" stroke-width="0.2" textLength="8.60" lengthAdjust="spacingAndGlyphs">RU</text>
<line x1="203.50" y1="367.00" x2="203.50" y2="466.30" stroke="#7a7a7a" stroke-width="1.1"/>
<text x="206.00" y="374.40" font-size="9.88" font-weight="bold" text-anchor="start" fill="#000" stroke="#000" stroke-width="0.3" textLength="33.60" lengthAdjust="spacingAndGlyphs">2.31 μM</text>
<text x="330.60" y="474.30" font-size="9.59" font-weight="bold" text-anchor="start" fill="#000" stroke="#000" stroke-width="0.3" textLength="13.10" lengthAdjust="spacingAndGlyphs">μM</text>
<text x="259.40" y="485.70" font-size="9.30" font-weight="bold" text-anchor="start" fill="#000" stroke="#000" stroke-width="0.3" textLength="54.30" lengthAdjust="spacingAndGlyphs">Concentration</text>
<text transform="translate(181.50,432.90) rotate(-90)" x="0" y="0" font-size="9.01" font-weight="bold" fill="#000" stroke="#000" stroke-width="0.3" textLength="36.70" lengthAdjust="spacingAndGlyphs">Response</text>
<path d="M209.10,380.60 L211.18,393.36 L213.27,402.77 L215.35,410.01 L217.43,415.75 L219.52,420.40 L221.60,424.26 L223.68,427.51 L225.77,430.28 L227.85,432.67 L229.93,434.76 L232.02,436.59 L234.10,438.22 L236.18,439.67 L238.27,440.98 L240.35,442.16 L242.43,443.23 L244.52,444.20 L246.60,445.09 L248.68,445.91 L250.77,446.67 L252.85,447.37 L254.93,448.02 L257.02,448.62 L259.10,449.18 L261.18,449.71 L263.27,450.20 L265.35,450.67 L267.43,451.10 L269.52,451.51 L271.60,451.90 L273.68,452.26 L275.77,452.61 L277.85,452.94 L279.93,453.25 L282.02,453.55 L284.10,453.83 L286.18,454.10 L288.27,454.35 L290.35,454.60 L292.43,454.83 L294.52,455.06 L296.60,455.27 L298.68,455.48 L300.77,455.68 L302.85,455.87 L304.93,456.05 L307.02,456.23 L309.10,456.40 L311.18,456.56 L313.27,456.72 L315.35,456.87 L317.43,457.01 L319.52,457.16 L321.60,457.29 L323.68,457.42 L325.77,457.55 L327.85,457.68 L329.93,457.80 L332.02,457.91 L334.10,458.02" fill="none" stroke="#979797" stroke-width="0.85" />
<path d="M209.10,378.50 L210.62,380.40 L209.10,382.30 L207.58,380.40Z" fill="#f00"/>
<path d="M217.60,405.30 L219.12,407.20 L217.60,409.10 L216.08,407.20Z" fill="#f00"/>
<path d="M233.80,444.10 L235.32,446.00 L233.80,447.90 L232.28,446.00Z" fill="#f00"/>
<path d="M268.00,460.50 L269.52,462.40 L268.00,464.30 L266.48,462.40Z" fill="#f00"/>
<path d="M334.80,444.90 L336.32,446.80 L334.80,448.70 L333.28,446.80Z" fill="#f00"/>
<line x1="377.50" y1="369.10" x2="377.50" y2="466.30" stroke="#cfcfcf" stroke-width="1"/>
<line x1="375.90" y1="466.80" x2="377.40" y2="466.80" stroke="#b0b0b0" stroke-width="0.8"/>
<line x1="375.90" y1="439.40" x2="377.40" y2="439.40" stroke="#b0b0b0" stroke-width="0.8"/>
<line x1="375.90" y1="411.80" x2="377.40" y2="411.80" stroke="#b0b0b0" stroke-width="0.8"/>
<line x1="375.90" y1="384.20" x2="377.40" y2="384.20" stroke="#b0b0b0" stroke-width="0.8"/>
<line x1="375.90" y1="453.10" x2="377.40" y2="453.10" stroke="#b0b0b0" stroke-width="0.8"/>
<line x1="375.90" y1="425.60" x2="377.40" y2="425.60" stroke="#b0b0b0" stroke-width="0.8"/>
<line x1="375.90" y1="398.00" x2="377.40" y2="398.00" stroke="#b0b0b0" stroke-width="0.8"/>
<line x1="377.40" y1="466.50" x2="514.60" y2="466.50" stroke="#cfcfcf" stroke-width="1"/>
<line x1="377.20" y1="466.30" x2="377.20" y2="467.80" stroke="#b0b0b0" stroke-width="0.8"/>
<line x1="387.09" y1="466.30" x2="387.09" y2="467.80" stroke="#b0b0b0" stroke-width="0.8"/>
<line x1="396.98" y1="466.30" x2="396.98" y2="467.80" stroke="#b0b0b0" stroke-width="0.8"/>
<line x1="406.87" y1="466.30" x2="406.87" y2="467.80" stroke="#b0b0b0" stroke-width="0.8"/>
<line x1="416.76" y1="466.30" x2="416.76" y2="467.80" stroke="#b0b0b0" stroke-width="0.8"/>
<line x1="426.65" y1="466.30" x2="426.65" y2="467.80" stroke="#b0b0b0" stroke-width="0.8"/>
<line x1="436.54" y1="466.30" x2="436.54" y2="467.80" stroke="#b0b0b0" stroke-width="0.8"/>
<line x1="446.43" y1="466.30" x2="446.43" y2="467.80" stroke="#b0b0b0" stroke-width="0.8"/>
<line x1="456.32" y1="466.30" x2="456.32" y2="467.80" stroke="#b0b0b0" stroke-width="0.8"/>
<line x1="466.21" y1="466.30" x2="466.21" y2="467.80" stroke="#b0b0b0" stroke-width="0.8"/>
<line x1="476.10" y1="466.30" x2="476.10" y2="467.80" stroke="#b0b0b0" stroke-width="0.8"/>
<line x1="485.99" y1="466.30" x2="485.99" y2="467.80" stroke="#b0b0b0" stroke-width="0.8"/>
<line x1="495.88" y1="466.30" x2="495.88" y2="467.80" stroke="#b0b0b0" stroke-width="0.8"/>
<text x="372.30" y="468.95" font-size="6.25" font-weight="bold" text-anchor="end" fill="#000" stroke="#000" stroke-width="0.2" textLength="8.50" lengthAdjust="spacingAndGlyphs">-20</text>
<text x="372.30" y="441.55" font-size="6.25" font-weight="bold" text-anchor="end" fill="#000" stroke="#000" stroke-width="0.2" textLength="8.50" lengthAdjust="spacingAndGlyphs">-16</text>
<text x="372.30" y="413.95" font-size="6.25" font-weight="bold" text-anchor="end" fill="#000" stroke="#000" stroke-width="0.2" textLength="8.50" lengthAdjust="spacingAndGlyphs">-12</text>
<text x="372.30" y="386.35" font-size="6.25" font-weight="bold" text-anchor="end" fill="#000" stroke="#000" stroke-width="0.2" textLength="5.35" lengthAdjust="spacingAndGlyphs">-8</text>
<text x="377.20" y="475.25" font-size="6.25" font-weight="bold" text-anchor="middle" fill="#000" stroke="#000" stroke-width="0.2" textLength="3.15" lengthAdjust="spacingAndGlyphs">0</text>
<text x="396.98" y="475.25" font-size="6.25" font-weight="bold" text-anchor="middle" fill="#000" stroke="#000" stroke-width="0.2" textLength="6.30" lengthAdjust="spacingAndGlyphs">20</text>
<text x="416.76" y="475.25" font-size="6.25" font-weight="bold" text-anchor="middle" fill="#000" stroke="#000" stroke-width="0.2" textLength="6.30" lengthAdjust="spacingAndGlyphs">40</text>
<text x="436.54" y="475.25" font-size="6.25" font-weight="bold" text-anchor="middle" fill="#000" stroke="#000" stroke-width="0.2" textLength="6.30" lengthAdjust="spacingAndGlyphs">60</text>
<text x="456.32" y="475.25" font-size="6.25" font-weight="bold" text-anchor="middle" fill="#000" stroke="#000" stroke-width="0.2" textLength="6.30" lengthAdjust="spacingAndGlyphs">80</text>
<text x="476.10" y="475.25" font-size="6.25" font-weight="bold" text-anchor="middle" fill="#000" stroke="#000" stroke-width="0.2" textLength="9.45" lengthAdjust="spacingAndGlyphs">100</text>
<text x="495.88" y="475.25" font-size="6.25" font-weight="bold" text-anchor="middle" fill="#000" stroke="#000" stroke-width="0.2" textLength="9.45" lengthAdjust="spacingAndGlyphs">120</text>
<text x="362.30" y="365.90" font-size="6.69" font-weight="bold" text-anchor="start" fill="#000" stroke="#000" stroke-width="0.2" textLength="8.70" lengthAdjust="spacingAndGlyphs">RU</text>
<line x1="514.50" y1="366.80" x2="514.50" y2="466.30" stroke="#7a7a7a" stroke-width="1.1"/>
<text x="478.60" y="374.20" font-size="9.88" font-weight="bold" text-anchor="start" fill="#000" stroke="#000" stroke-width="0.3" textLength="31.10" lengthAdjust="spacingAndGlyphs">139 μM</text>
<text x="507.50" y="474.30" font-size="9.59" font-weight="bold" text-anchor="start" fill="#000" stroke="#000" stroke-width="0.3" textLength="13.20" lengthAdjust="spacingAndGlyphs">μM</text>
<text x="437.50" y="485.90" font-size="9.30" font-weight="bold" text-anchor="start" fill="#000" stroke="#000" stroke-width="0.3" textLength="54.50" lengthAdjust="spacingAndGlyphs">Concentration</text>
<text transform="translate(359.80,432.40) rotate(-90)" x="0" y="0" font-size="9.01" font-weight="bold" fill="#000" stroke="#000" stroke-width="0.3" textLength="35.50" lengthAdjust="spacingAndGlyphs">Response</text>
<path d="M385.50,375.99 L387.46,378.74 L389.42,381.40 L391.38,383.98 L393.33,386.48 L395.29,388.91 L397.25,391.27 L399.21,393.56 L401.17,395.79 L403.12,397.95 L405.08,400.06 L407.04,402.10 L409.00,404.10 L410.96,406.04 L412.92,407.92 L414.88,409.76 L416.83,411.56 L418.79,413.31 L420.75,415.01 L422.71,416.67 L424.67,418.30 L426.62,419.88 L428.58,421.43 L430.54,422.94 L432.50,424.41 L434.46,425.85 L436.42,427.26 L438.38,428.64 L440.33,429.99 L442.29,431.31 L444.25,432.59 L446.21,433.86 L448.17,435.09 L450.12,436.30 L452.08,437.49 L454.04,438.65 L456.00,439.78 L457.96,440.90 L459.92,441.99 L461.88,443.06 L463.83,444.11 L465.79,445.14 L467.75,446.15 L469.71,447.14 L471.67,448.11 L473.62,449.06 L475.58,450.00 L477.54,450.92 L479.50,451.82 L481.46,452.70 L483.42,453.57 L485.38,454.43 L487.33,455.27 L489.29,456.09 L491.25,456.91 L493.21,457.70 L495.17,458.49 L497.12,459.26 L499.08,460.02 L501.04,460.76 L503.00,461.50" fill="none" stroke="#979797" stroke-width="0.85" />
<path d="M385.50,380.00 L387.02,381.90 L385.50,383.80 L383.98,381.90Z" fill="#f00"/>
<path d="M392.90,376.00 L394.42,377.90 L392.90,379.80 L391.38,377.90Z" fill="#f00"/>
<path d="M408.80,401.60 L410.32,403.50 L408.80,405.40 L407.28,403.50Z" fill="#f00"/>
<path d="M440.40,428.50 L441.92,430.40 L440.40,432.30 L438.88,430.40Z" fill="#f00"/>
<path d="M503.00,458.90 L504.52,460.80 L503.00,462.70 L501.48,460.80Z" fill="#f00"/>
<text x="41.00" y="343.25" font-size="9.01" font-weight="bold" text-anchor="start" fill="#000" stroke="#000" stroke-width="0.3" textLength="50.30" lengthAdjust="spacingAndGlyphs">BFSP1 peptide</text>
<text x="41.00" y="352.95" font-size="9.01" font-weight="bold" text-anchor="start" fill="#000" stroke="#000" stroke-width="0.3" textLength="126.30" lengthAdjust="spacingAndGlyphs">GGQISKGFGKLYRKVRSPKEPETPTELYT</text>
<text x="206.90" y="343.05" font-size="9.01" font-weight="bold" text-anchor="start" fill="#000" stroke="#000" stroke-width="0.3" textLength="50.30" lengthAdjust="spacingAndGlyphs">BFSP1 peptide</text>
<text x="206.90" y="352.95" font-size="9.01" font-weight="bold" text-anchor="start" fill="#000" stroke="#000" stroke-width="0.3" textLength="145.50" lengthAdjust="spacingAndGlyphs">Myr-GGQISKGFGKLYRKVRSPKEPETPTELYT</text>
<text x="380.60" y="342.85" font-size="9.01" font-weight="bold" text-anchor="start" fill="#000" stroke="#000" stroke-width="0.3" textLength="133.50" lengthAdjust="spacingAndGlyphs">Peptide control - scrambled sequence</text>
<text x="380.60" y="352.95" font-size="9.01" font-weight="bold" text-anchor="start" fill="#000" stroke="#000" stroke-width="0.3" textLength="152.30" lengthAdjust="spacingAndGlyphs">RGYEPKRKFETVQSEPTGLKYKELVPIGSTKKGK</text>
</svg></body></html>
